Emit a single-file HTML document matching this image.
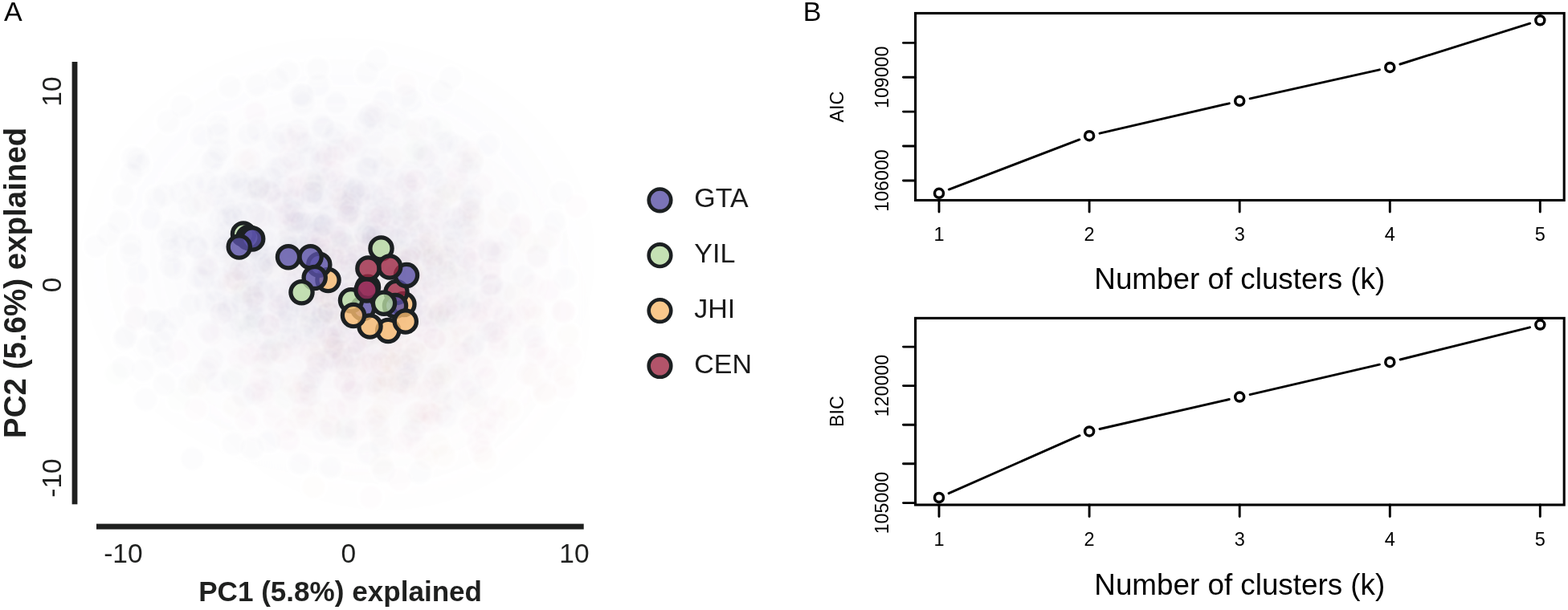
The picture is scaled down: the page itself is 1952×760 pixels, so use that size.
<!DOCTYPE html>
<html><head><meta charset="utf-8"><title>PCA and clustering</title>
<style>
html,body{margin:0;padding:0;background:#fff;}
svg{display:block;}
text{font-family:"Liberation Sans", Arial, Helvetica, sans-serif;}
</style></head><body>
<svg width="1952" height="760" viewBox="0 0 1952 760">
<defs>
<filter id="blur" x="-20%" y="-20%" width="140%" height="140%"><feGaussianBlur stdDeviation="1.0"/></filter>
<radialGradient id="hzP"><stop offset="0.00" stop-color="#8a84bc" stop-opacity="0.0850"/><stop offset="0.08" stop-color="#8a84bc" stop-opacity="0.0832"/><stop offset="0.17" stop-color="#8a84bc" stop-opacity="0.0778"/><stop offset="0.25" stop-color="#8a84bc" stop-opacity="0.0697"/><stop offset="0.33" stop-color="#8a84bc" stop-opacity="0.0596"/><stop offset="0.42" stop-color="#8a84bc" stop-opacity="0.0487"/><stop offset="0.50" stop-color="#8a84bc" stop-opacity="0.0378"/><stop offset="0.58" stop-color="#8a84bc" stop-opacity="0.0278"/><stop offset="0.67" stop-color="#8a84bc" stop-opacity="0.0191"/><stop offset="0.75" stop-color="#8a84bc" stop-opacity="0.0121"/><stop offset="0.83" stop-color="#8a84bc" stop-opacity="0.0067"/><stop offset="0.92" stop-color="#8a84bc" stop-opacity="0.0027"/><stop offset="1.00" stop-color="#8a84bc" stop-opacity="0.0000"/></radialGradient>
<radialGradient id="hzR"><stop offset="0.00" stop-color="#c7909f" stop-opacity="0.0500"/><stop offset="0.08" stop-color="#c7909f" stop-opacity="0.0489"/><stop offset="0.17" stop-color="#c7909f" stop-opacity="0.0458"/><stop offset="0.25" stop-color="#c7909f" stop-opacity="0.0410"/><stop offset="0.33" stop-color="#c7909f" stop-opacity="0.0351"/><stop offset="0.42" stop-color="#c7909f" stop-opacity="0.0286"/><stop offset="0.50" stop-color="#c7909f" stop-opacity="0.0222"/><stop offset="0.58" stop-color="#c7909f" stop-opacity="0.0163"/><stop offset="0.67" stop-color="#c7909f" stop-opacity="0.0113"/><stop offset="0.75" stop-color="#c7909f" stop-opacity="0.0071"/><stop offset="0.83" stop-color="#c7909f" stop-opacity="0.0039"/><stop offset="0.92" stop-color="#c7909f" stop-opacity="0.0016"/><stop offset="1.00" stop-color="#c7909f" stop-opacity="0.0000"/></radialGradient>
<clipPath id="clipA"><rect x="97" y="40" width="690" height="610"/></clipPath>
</defs>
<rect width="1952" height="760" fill="#ffffff"/>

<g filter="url(#blur)" clip-path="url(#clipA)">
<ellipse cx="420" cy="320" rx="340" ry="290" fill="url(#hzP)"/>
<ellipse cx="480" cy="400" rx="280" ry="260" fill="url(#hzR)"/>
<circle cx="389.8" cy="310.6" r="14.5" fill="#8a84bc" fill-opacity="0.024" stroke="#fff" stroke-opacity="0.2" stroke-width="1.5"/>
<circle cx="322.7" cy="235.1" r="14.5" fill="#8a84bc" fill-opacity="0.024" stroke="#fff" stroke-opacity="0.2" stroke-width="1.5"/>
<circle cx="309.1" cy="297.0" r="14.5" fill="#8a84bc" fill-opacity="0.024" stroke="#fff" stroke-opacity="0.2" stroke-width="1.5"/>
<circle cx="484.3" cy="259.6" r="14.5" fill="#8a84bc" fill-opacity="0.024" stroke="#fff" stroke-opacity="0.2" stroke-width="1.5"/>
<circle cx="359.5" cy="392.9" r="14.5" fill="#8a84bc" fill-opacity="0.024" stroke="#fff" stroke-opacity="0.2" stroke-width="1.5"/>
<circle cx="541.1" cy="400.2" r="14.5" fill="#8a84bc" fill-opacity="0.024" stroke="#fff" stroke-opacity="0.2" stroke-width="1.5"/>
<circle cx="376.0" cy="307.0" r="14.5" fill="#8a84bc" fill-opacity="0.024" stroke="#fff" stroke-opacity="0.2" stroke-width="1.5"/>
<circle cx="400.4" cy="392.5" r="14.5" fill="#8a84bc" fill-opacity="0.024" stroke="#fff" stroke-opacity="0.2" stroke-width="1.5"/>
<circle cx="259.4" cy="457.9" r="14.5" fill="#c98ea2" fill-opacity="0.024" stroke="#fff" stroke-opacity="0.2" stroke-width="1.5"/>
<circle cx="418.4" cy="300.4" r="14.5" fill="#c98ea2" fill-opacity="0.024" stroke="#fff" stroke-opacity="0.2" stroke-width="1.5"/>
<circle cx="362.9" cy="260.7" r="14.5" fill="#8a84bc" fill-opacity="0.024" stroke="#fff" stroke-opacity="0.2" stroke-width="1.5"/>
<circle cx="464.4" cy="292.7" r="14.5" fill="#8a84bc" fill-opacity="0.024" stroke="#fff" stroke-opacity="0.2" stroke-width="1.5"/>
<circle cx="313.9" cy="356.0" r="14.5" fill="#8a84bc" fill-opacity="0.024" stroke="#fff" stroke-opacity="0.2" stroke-width="1.5"/>
<circle cx="410.2" cy="268.3" r="14.5" fill="#8a84bc" fill-opacity="0.024" stroke="#fff" stroke-opacity="0.2" stroke-width="1.5"/>
<circle cx="341.1" cy="236.2" r="14.5" fill="#8a84bc" fill-opacity="0.024" stroke="#fff" stroke-opacity="0.2" stroke-width="1.5"/>
<circle cx="469.4" cy="139.6" r="14.5" fill="#c98ea2" fill-opacity="0.024" stroke="#fff" stroke-opacity="0.2" stroke-width="1.5"/>
<circle cx="547.7" cy="203.2" r="14.5" fill="#8a84bc" fill-opacity="0.024" stroke="#fff" stroke-opacity="0.2" stroke-width="1.5"/>
<circle cx="412.7" cy="532.8" r="14.5" fill="#e8b48a" fill-opacity="0.024" stroke="#fff" stroke-opacity="0.2" stroke-width="1.5"/>
<circle cx="523.5" cy="291.3" r="14.5" fill="#8a84bc" fill-opacity="0.024" stroke="#fff" stroke-opacity="0.2" stroke-width="1.5"/>
<circle cx="384.8" cy="476.3" r="14.5" fill="#8a84bc" fill-opacity="0.024" stroke="#fff" stroke-opacity="0.2" stroke-width="1.5"/>
<circle cx="317.4" cy="219.9" r="14.5" fill="#8a84bc" fill-opacity="0.024" stroke="#fff" stroke-opacity="0.2" stroke-width="1.5"/>
<circle cx="227.5" cy="295.9" r="14.5" fill="#8a84bc" fill-opacity="0.024" stroke="#fff" stroke-opacity="0.2" stroke-width="1.5"/>
<circle cx="476.9" cy="208.9" r="14.5" fill="#8a84bc" fill-opacity="0.024" stroke="#fff" stroke-opacity="0.2" stroke-width="1.5"/>
<circle cx="350.2" cy="207.7" r="14.5" fill="#8a84bc" fill-opacity="0.024" stroke="#fff" stroke-opacity="0.2" stroke-width="1.5"/>
<circle cx="346.6" cy="270.9" r="14.5" fill="#8a84bc" fill-opacity="0.024" stroke="#fff" stroke-opacity="0.2" stroke-width="1.5"/>
<circle cx="415.0" cy="430.3" r="14.5" fill="#8a84bc" fill-opacity="0.024" stroke="#fff" stroke-opacity="0.2" stroke-width="1.5"/>
<circle cx="512.2" cy="237.5" r="14.5" fill="#8a84bc" fill-opacity="0.024" stroke="#fff" stroke-opacity="0.2" stroke-width="1.5"/>
<circle cx="464.9" cy="278.2" r="14.5" fill="#8a84bc" fill-opacity="0.024" stroke="#fff" stroke-opacity="0.2" stroke-width="1.5"/>
<circle cx="588.7" cy="297.3" r="14.5" fill="#c98ea2" fill-opacity="0.024" stroke="#fff" stroke-opacity="0.2" stroke-width="1.5"/>
<circle cx="212.6" cy="287.7" r="14.5" fill="#8a84bc" fill-opacity="0.024" stroke="#fff" stroke-opacity="0.2" stroke-width="1.5"/>
<circle cx="516.3" cy="459.0" r="14.5" fill="#b0d2a0" fill-opacity="0.024" stroke="#fff" stroke-opacity="0.2" stroke-width="1.5"/>
<circle cx="451.3" cy="302.5" r="14.5" fill="#e8b48a" fill-opacity="0.024" stroke="#fff" stroke-opacity="0.2" stroke-width="1.5"/>
<circle cx="516.7" cy="225.2" r="14.5" fill="#c98ea2" fill-opacity="0.024" stroke="#fff" stroke-opacity="0.2" stroke-width="1.5"/>
<circle cx="459.8" cy="417.6" r="14.5" fill="#e8b48a" fill-opacity="0.024" stroke="#fff" stroke-opacity="0.2" stroke-width="1.5"/>
<circle cx="366.1" cy="277.1" r="14.5" fill="#8a84bc" fill-opacity="0.024" stroke="#fff" stroke-opacity="0.2" stroke-width="1.5"/>
<circle cx="462.1" cy="378.0" r="14.5" fill="#8a84bc" fill-opacity="0.024" stroke="#fff" stroke-opacity="0.2" stroke-width="1.5"/>
<circle cx="658.4" cy="419.9" r="14.5" fill="#c98ea2" fill-opacity="0.024" stroke="#fff" stroke-opacity="0.2" stroke-width="1.5"/>
<circle cx="490.1" cy="351.5" r="14.5" fill="#e8b48a" fill-opacity="0.024" stroke="#fff" stroke-opacity="0.2" stroke-width="1.5"/>
<circle cx="327.8" cy="325.2" r="14.5" fill="#8a84bc" fill-opacity="0.024" stroke="#fff" stroke-opacity="0.2" stroke-width="1.5"/>
<circle cx="461.7" cy="619.5" r="14.5" fill="#c98ea2" fill-opacity="0.024" stroke="#fff" stroke-opacity="0.2" stroke-width="1.5"/>
<circle cx="507.0" cy="466.6" r="14.5" fill="#8a84bc" fill-opacity="0.024" stroke="#fff" stroke-opacity="0.2" stroke-width="1.5"/>
<circle cx="529.1" cy="510.0" r="14.5" fill="#c98ea2" fill-opacity="0.024" stroke="#fff" stroke-opacity="0.2" stroke-width="1.5"/>
<circle cx="532.1" cy="194.4" r="14.5" fill="#c98ea2" fill-opacity="0.024" stroke="#fff" stroke-opacity="0.2" stroke-width="1.5"/>
<circle cx="315.3" cy="307.8" r="14.5" fill="#8a84bc" fill-opacity="0.024" stroke="#fff" stroke-opacity="0.2" stroke-width="1.5"/>
<circle cx="402.9" cy="248.3" r="14.5" fill="#8a84bc" fill-opacity="0.024" stroke="#fff" stroke-opacity="0.2" stroke-width="1.5"/>
<circle cx="502.2" cy="249.9" r="14.5" fill="#c98ea2" fill-opacity="0.024" stroke="#fff" stroke-opacity="0.2" stroke-width="1.5"/>
<circle cx="574.9" cy="268.4" r="14.5" fill="#c98ea2" fill-opacity="0.024" stroke="#fff" stroke-opacity="0.2" stroke-width="1.5"/>
<circle cx="380.9" cy="493.8" r="14.5" fill="#c98ea2" fill-opacity="0.024" stroke="#fff" stroke-opacity="0.2" stroke-width="1.5"/>
<circle cx="380.7" cy="239.9" r="14.5" fill="#c98ea2" fill-opacity="0.024" stroke="#fff" stroke-opacity="0.2" stroke-width="1.5"/>
<circle cx="517.7" cy="353.0" r="14.5" fill="#c98ea2" fill-opacity="0.024" stroke="#fff" stroke-opacity="0.2" stroke-width="1.5"/>
<circle cx="212.7" cy="311.7" r="14.5" fill="#8a84bc" fill-opacity="0.024" stroke="#fff" stroke-opacity="0.2" stroke-width="1.5"/>
<circle cx="424.1" cy="437.9" r="14.5" fill="#e8b48a" fill-opacity="0.024" stroke="#fff" stroke-opacity="0.2" stroke-width="1.5"/>
<circle cx="541.2" cy="422.3" r="14.5" fill="#c98ea2" fill-opacity="0.024" stroke="#fff" stroke-opacity="0.2" stroke-width="1.5"/>
<circle cx="327.8" cy="486.1" r="14.5" fill="#c98ea2" fill-opacity="0.024" stroke="#fff" stroke-opacity="0.2" stroke-width="1.5"/>
<circle cx="273.0" cy="272.3" r="14.5" fill="#8a84bc" fill-opacity="0.024" stroke="#fff" stroke-opacity="0.2" stroke-width="1.5"/>
<circle cx="325.4" cy="245.7" r="14.5" fill="#8a84bc" fill-opacity="0.024" stroke="#fff" stroke-opacity="0.2" stroke-width="1.5"/>
<circle cx="430.7" cy="355.6" r="14.5" fill="#8a84bc" fill-opacity="0.024" stroke="#fff" stroke-opacity="0.2" stroke-width="1.5"/>
<circle cx="431.7" cy="336.9" r="14.5" fill="#e8b48a" fill-opacity="0.024" stroke="#fff" stroke-opacity="0.2" stroke-width="1.5"/>
<circle cx="407.1" cy="414.2" r="14.5" fill="#c98ea2" fill-opacity="0.024" stroke="#fff" stroke-opacity="0.2" stroke-width="1.5"/>
<circle cx="395.5" cy="220.6" r="14.5" fill="#8a84bc" fill-opacity="0.024" stroke="#fff" stroke-opacity="0.2" stroke-width="1.5"/>
<circle cx="439.6" cy="245.8" r="14.5" fill="#8a84bc" fill-opacity="0.024" stroke="#fff" stroke-opacity="0.2" stroke-width="1.5"/>
<circle cx="604.3" cy="571.6" r="14.5" fill="#e8b48a" fill-opacity="0.024" stroke="#fff" stroke-opacity="0.2" stroke-width="1.5"/>
<circle cx="471.5" cy="280.9" r="14.5" fill="#8a84bc" fill-opacity="0.024" stroke="#fff" stroke-opacity="0.2" stroke-width="1.5"/>
<circle cx="530.2" cy="312.8" r="14.5" fill="#8a84bc" fill-opacity="0.024" stroke="#fff" stroke-opacity="0.2" stroke-width="1.5"/>
<circle cx="493.2" cy="490.6" r="14.5" fill="#c98ea2" fill-opacity="0.024" stroke="#fff" stroke-opacity="0.2" stroke-width="1.5"/>
<circle cx="327.8" cy="495.6" r="14.5" fill="#c98ea2" fill-opacity="0.024" stroke="#fff" stroke-opacity="0.2" stroke-width="1.5"/>
<circle cx="357.4" cy="375.4" r="14.5" fill="#8a84bc" fill-opacity="0.024" stroke="#fff" stroke-opacity="0.2" stroke-width="1.5"/>
<circle cx="438.6" cy="351.4" r="14.5" fill="#8a84bc" fill-opacity="0.024" stroke="#fff" stroke-opacity="0.2" stroke-width="1.5"/>
<circle cx="178.0" cy="461.3" r="14.5" fill="#8a84bc" fill-opacity="0.024" stroke="#fff" stroke-opacity="0.2" stroke-width="1.5"/>
<circle cx="318.8" cy="376.7" r="14.5" fill="#8a84bc" fill-opacity="0.024" stroke="#fff" stroke-opacity="0.2" stroke-width="1.5"/>
<circle cx="285.2" cy="352.6" r="14.5" fill="#c98ea2" fill-opacity="0.024" stroke="#fff" stroke-opacity="0.2" stroke-width="1.5"/>
<circle cx="461.3" cy="143.4" r="14.5" fill="#8a84bc" fill-opacity="0.024" stroke="#fff" stroke-opacity="0.2" stroke-width="1.5"/>
<circle cx="204.5" cy="242.9" r="14.5" fill="#8a84bc" fill-opacity="0.024" stroke="#fff" stroke-opacity="0.2" stroke-width="1.5"/>
<circle cx="576.8" cy="418.3" r="14.5" fill="#e8b48a" fill-opacity="0.024" stroke="#fff" stroke-opacity="0.2" stroke-width="1.5"/>
<circle cx="577.9" cy="374.3" r="14.5" fill="#b0d2a0" fill-opacity="0.024" stroke="#fff" stroke-opacity="0.2" stroke-width="1.5"/>
<circle cx="493.2" cy="404.9" r="14.5" fill="#c98ea2" fill-opacity="0.024" stroke="#fff" stroke-opacity="0.2" stroke-width="1.5"/>
<circle cx="514.3" cy="282.1" r="14.5" fill="#8a84bc" fill-opacity="0.024" stroke="#fff" stroke-opacity="0.2" stroke-width="1.5"/>
<circle cx="587.6" cy="244.3" r="14.5" fill="#8a84bc" fill-opacity="0.024" stroke="#fff" stroke-opacity="0.2" stroke-width="1.5"/>
<circle cx="497.5" cy="388.5" r="14.5" fill="#8a84bc" fill-opacity="0.024" stroke="#fff" stroke-opacity="0.2" stroke-width="1.5"/>
<circle cx="478.8" cy="125.0" r="14.5" fill="#8a84bc" fill-opacity="0.024" stroke="#fff" stroke-opacity="0.2" stroke-width="1.5"/>
<circle cx="344.1" cy="209.5" r="14.5" fill="#8a84bc" fill-opacity="0.024" stroke="#fff" stroke-opacity="0.2" stroke-width="1.5"/>
<circle cx="389.1" cy="353.1" r="14.5" fill="#b0d2a0" fill-opacity="0.024" stroke="#fff" stroke-opacity="0.2" stroke-width="1.5"/>
<circle cx="438.2" cy="305.2" r="14.5" fill="#8a84bc" fill-opacity="0.024" stroke="#fff" stroke-opacity="0.2" stroke-width="1.5"/>
<circle cx="289.9" cy="409.4" r="14.5" fill="#8a84bc" fill-opacity="0.024" stroke="#fff" stroke-opacity="0.2" stroke-width="1.5"/>
<circle cx="373.4" cy="272.1" r="14.5" fill="#c98ea2" fill-opacity="0.024" stroke="#fff" stroke-opacity="0.2" stroke-width="1.5"/>
<circle cx="476.7" cy="483.7" r="14.5" fill="#e8b48a" fill-opacity="0.024" stroke="#fff" stroke-opacity="0.2" stroke-width="1.5"/>
<circle cx="505.8" cy="230.5" r="14.5" fill="#8a84bc" fill-opacity="0.024" stroke="#fff" stroke-opacity="0.2" stroke-width="1.5"/>
<circle cx="497.9" cy="443.1" r="14.5" fill="#e8b48a" fill-opacity="0.024" stroke="#fff" stroke-opacity="0.2" stroke-width="1.5"/>
<circle cx="307.0" cy="417.0" r="14.5" fill="#8a84bc" fill-opacity="0.024" stroke="#fff" stroke-opacity="0.2" stroke-width="1.5"/>
<circle cx="456.1" cy="348.5" r="14.5" fill="#8a84bc" fill-opacity="0.024" stroke="#fff" stroke-opacity="0.2" stroke-width="1.5"/>
<circle cx="703.8" cy="347.3" r="14.5" fill="#8a84bc" fill-opacity="0.024" stroke="#fff" stroke-opacity="0.2" stroke-width="1.5"/>
<circle cx="458.0" cy="307.2" r="14.5" fill="#8a84bc" fill-opacity="0.024" stroke="#fff" stroke-opacity="0.2" stroke-width="1.5"/>
<circle cx="269.4" cy="375.9" r="14.5" fill="#8a84bc" fill-opacity="0.024" stroke="#fff" stroke-opacity="0.2" stroke-width="1.5"/>
<circle cx="372.1" cy="312.0" r="14.5" fill="#8a84bc" fill-opacity="0.024" stroke="#fff" stroke-opacity="0.2" stroke-width="1.5"/>
<circle cx="309.7" cy="167.8" r="14.5" fill="#8a84bc" fill-opacity="0.024" stroke="#fff" stroke-opacity="0.2" stroke-width="1.5"/>
<circle cx="677.8" cy="302.0" r="14.5" fill="#b0d2a0" fill-opacity="0.024" stroke="#fff" stroke-opacity="0.2" stroke-width="1.5"/>
<circle cx="492.2" cy="371.2" r="14.5" fill="#8a84bc" fill-opacity="0.024" stroke="#fff" stroke-opacity="0.2" stroke-width="1.5"/>
<circle cx="433.4" cy="254.6" r="14.5" fill="#8a84bc" fill-opacity="0.024" stroke="#fff" stroke-opacity="0.2" stroke-width="1.5"/>
<circle cx="542.0" cy="466.2" r="14.5" fill="#8a84bc" fill-opacity="0.024" stroke="#fff" stroke-opacity="0.2" stroke-width="1.5"/>
<circle cx="499.6" cy="324.8" r="14.5" fill="#8a84bc" fill-opacity="0.024" stroke="#fff" stroke-opacity="0.2" stroke-width="1.5"/>
<circle cx="425.3" cy="389.2" r="14.5" fill="#8a84bc" fill-opacity="0.024" stroke="#fff" stroke-opacity="0.2" stroke-width="1.5"/>
<circle cx="495.0" cy="147.8" r="14.5" fill="#8a84bc" fill-opacity="0.024" stroke="#fff" stroke-opacity="0.2" stroke-width="1.5"/>
<circle cx="393.6" cy="297.5" r="14.5" fill="#c98ea2" fill-opacity="0.024" stroke="#fff" stroke-opacity="0.2" stroke-width="1.5"/>
<circle cx="261.0" cy="297.8" r="14.5" fill="#8a84bc" fill-opacity="0.024" stroke="#fff" stroke-opacity="0.2" stroke-width="1.5"/>
<circle cx="561.1" cy="96.7" r="14.5" fill="#8a84bc" fill-opacity="0.024" stroke="#fff" stroke-opacity="0.2" stroke-width="1.5"/>
<circle cx="414.9" cy="173.6" r="14.5" fill="#8a84bc" fill-opacity="0.024" stroke="#fff" stroke-opacity="0.2" stroke-width="1.5"/>
<circle cx="412.9" cy="418.5" r="14.5" fill="#8a84bc" fill-opacity="0.024" stroke="#fff" stroke-opacity="0.2" stroke-width="1.5"/>
<circle cx="611.6" cy="355.1" r="14.5" fill="#8a84bc" fill-opacity="0.024" stroke="#fff" stroke-opacity="0.2" stroke-width="1.5"/>
<circle cx="573.8" cy="271.5" r="14.5" fill="#8a84bc" fill-opacity="0.024" stroke="#fff" stroke-opacity="0.2" stroke-width="1.5"/>
<circle cx="464.2" cy="522.7" r="14.5" fill="#c98ea2" fill-opacity="0.024" stroke="#fff" stroke-opacity="0.2" stroke-width="1.5"/>
<circle cx="305.2" cy="398.2" r="14.5" fill="#b0d2a0" fill-opacity="0.024" stroke="#fff" stroke-opacity="0.2" stroke-width="1.5"/>
<circle cx="316.1" cy="484.9" r="14.5" fill="#c98ea2" fill-opacity="0.024" stroke="#fff" stroke-opacity="0.2" stroke-width="1.5"/>
<circle cx="512.4" cy="126.3" r="14.5" fill="#8a84bc" fill-opacity="0.024" stroke="#fff" stroke-opacity="0.2" stroke-width="1.5"/>
<circle cx="439.8" cy="383.0" r="14.5" fill="#c98ea2" fill-opacity="0.024" stroke="#fff" stroke-opacity="0.2" stroke-width="1.5"/>
<circle cx="408.1" cy="355.5" r="14.5" fill="#b0d2a0" fill-opacity="0.024" stroke="#fff" stroke-opacity="0.2" stroke-width="1.5"/>
<circle cx="399.9" cy="328.5" r="14.5" fill="#8a84bc" fill-opacity="0.024" stroke="#fff" stroke-opacity="0.2" stroke-width="1.5"/>
<circle cx="406.2" cy="223.3" r="14.5" fill="#8a84bc" fill-opacity="0.024" stroke="#fff" stroke-opacity="0.2" stroke-width="1.5"/>
<circle cx="428.9" cy="231.3" r="14.5" fill="#8a84bc" fill-opacity="0.024" stroke="#fff" stroke-opacity="0.2" stroke-width="1.5"/>
<circle cx="433.5" cy="506.6" r="14.5" fill="#c98ea2" fill-opacity="0.024" stroke="#fff" stroke-opacity="0.2" stroke-width="1.5"/>
<circle cx="433.6" cy="265.0" r="14.5" fill="#8a84bc" fill-opacity="0.024" stroke="#fff" stroke-opacity="0.2" stroke-width="1.5"/>
<circle cx="583.2" cy="263.3" r="14.5" fill="#8a84bc" fill-opacity="0.024" stroke="#fff" stroke-opacity="0.2" stroke-width="1.5"/>
<circle cx="377.5" cy="128.9" r="14.5" fill="#8a84bc" fill-opacity="0.024" stroke="#fff" stroke-opacity="0.2" stroke-width="1.5"/>
<circle cx="278.3" cy="307.5" r="14.5" fill="#8a84bc" fill-opacity="0.024" stroke="#fff" stroke-opacity="0.2" stroke-width="1.5"/>
<circle cx="346.1" cy="378.8" r="14.5" fill="#8a84bc" fill-opacity="0.024" stroke="#fff" stroke-opacity="0.2" stroke-width="1.5"/>
<circle cx="647.1" cy="282.3" r="14.5" fill="#c98ea2" fill-opacity="0.024" stroke="#fff" stroke-opacity="0.2" stroke-width="1.5"/>
<circle cx="314.2" cy="233.5" r="14.5" fill="#8a84bc" fill-opacity="0.024" stroke="#fff" stroke-opacity="0.2" stroke-width="1.5"/>
<circle cx="456.4" cy="91.2" r="14.5" fill="#8a84bc" fill-opacity="0.024" stroke="#fff" stroke-opacity="0.2" stroke-width="1.5"/>
<circle cx="184.8" cy="430.8" r="14.5" fill="#8a84bc" fill-opacity="0.024" stroke="#fff" stroke-opacity="0.2" stroke-width="1.5"/>
<circle cx="490.0" cy="306.2" r="14.5" fill="#b0d2a0" fill-opacity="0.024" stroke="#fff" stroke-opacity="0.2" stroke-width="1.5"/>
<circle cx="586.4" cy="479.0" r="14.5" fill="#8a84bc" fill-opacity="0.024" stroke="#fff" stroke-opacity="0.2" stroke-width="1.5"/>
<circle cx="441.5" cy="382.0" r="14.5" fill="#e8b48a" fill-opacity="0.024" stroke="#fff" stroke-opacity="0.2" stroke-width="1.5"/>
<circle cx="283.7" cy="387.7" r="14.5" fill="#8a84bc" fill-opacity="0.024" stroke="#fff" stroke-opacity="0.2" stroke-width="1.5"/>
<circle cx="546.9" cy="394.8" r="14.5" fill="#8a84bc" fill-opacity="0.024" stroke="#fff" stroke-opacity="0.2" stroke-width="1.5"/>
<circle cx="531.1" cy="279.1" r="14.5" fill="#8a84bc" fill-opacity="0.024" stroke="#fff" stroke-opacity="0.2" stroke-width="1.5"/>
<circle cx="566.7" cy="379.3" r="14.5" fill="#8a84bc" fill-opacity="0.024" stroke="#fff" stroke-opacity="0.2" stroke-width="1.5"/>
<circle cx="528.0" cy="196.3" r="14.5" fill="#8a84bc" fill-opacity="0.024" stroke="#fff" stroke-opacity="0.2" stroke-width="1.5"/>
<circle cx="554.6" cy="382.5" r="14.5" fill="#c98ea2" fill-opacity="0.024" stroke="#fff" stroke-opacity="0.2" stroke-width="1.5"/>
<circle cx="404.0" cy="336.2" r="14.5" fill="#8a84bc" fill-opacity="0.024" stroke="#fff" stroke-opacity="0.2" stroke-width="1.5"/>
<circle cx="392.6" cy="364.9" r="14.5" fill="#8a84bc" fill-opacity="0.024" stroke="#fff" stroke-opacity="0.2" stroke-width="1.5"/>
<circle cx="315.3" cy="395.2" r="14.5" fill="#8a84bc" fill-opacity="0.024" stroke="#fff" stroke-opacity="0.2" stroke-width="1.5"/>
<circle cx="381.3" cy="330.1" r="14.5" fill="#8a84bc" fill-opacity="0.024" stroke="#fff" stroke-opacity="0.2" stroke-width="1.5"/>
<circle cx="407.2" cy="300.6" r="14.5" fill="#b0d2a0" fill-opacity="0.024" stroke="#fff" stroke-opacity="0.2" stroke-width="1.5"/>
<circle cx="609.6" cy="335.9" r="14.5" fill="#c98ea2" fill-opacity="0.024" stroke="#fff" stroke-opacity="0.2" stroke-width="1.5"/>
<circle cx="539.6" cy="248.0" r="14.5" fill="#c98ea2" fill-opacity="0.024" stroke="#fff" stroke-opacity="0.2" stroke-width="1.5"/>
<circle cx="599.3" cy="375.0" r="14.5" fill="#8a84bc" fill-opacity="0.024" stroke="#fff" stroke-opacity="0.2" stroke-width="1.5"/>
<circle cx="436.4" cy="261.8" r="14.5" fill="#8a84bc" fill-opacity="0.024" stroke="#fff" stroke-opacity="0.2" stroke-width="1.5"/>
<circle cx="571.2" cy="343.7" r="14.5" fill="#e8b48a" fill-opacity="0.024" stroke="#fff" stroke-opacity="0.2" stroke-width="1.5"/>
<circle cx="309.2" cy="299.3" r="14.5" fill="#e8b48a" fill-opacity="0.024" stroke="#fff" stroke-opacity="0.2" stroke-width="1.5"/>
<circle cx="404.9" cy="198.2" r="14.5" fill="#c98ea2" fill-opacity="0.024" stroke="#fff" stroke-opacity="0.2" stroke-width="1.5"/>
<circle cx="549.3" cy="113.9" r="14.5" fill="#8a84bc" fill-opacity="0.024" stroke="#fff" stroke-opacity="0.2" stroke-width="1.5"/>
<circle cx="411.7" cy="444.9" r="14.5" fill="#c98ea2" fill-opacity="0.024" stroke="#fff" stroke-opacity="0.2" stroke-width="1.5"/>
<circle cx="368.2" cy="214.9" r="14.5" fill="#c98ea2" fill-opacity="0.024" stroke="#fff" stroke-opacity="0.2" stroke-width="1.5"/>
<circle cx="417.6" cy="509.8" r="14.5" fill="#c98ea2" fill-opacity="0.024" stroke="#fff" stroke-opacity="0.2" stroke-width="1.5"/>
<circle cx="392.7" cy="346.1" r="14.5" fill="#c98ea2" fill-opacity="0.024" stroke="#fff" stroke-opacity="0.2" stroke-width="1.5"/>
<circle cx="390.7" cy="330.6" r="14.5" fill="#8a84bc" fill-opacity="0.024" stroke="#fff" stroke-opacity="0.2" stroke-width="1.5"/>
<circle cx="425.1" cy="414.0" r="14.5" fill="#8a84bc" fill-opacity="0.024" stroke="#fff" stroke-opacity="0.2" stroke-width="1.5"/>
<circle cx="255.2" cy="376.8" r="14.5" fill="#8a84bc" fill-opacity="0.024" stroke="#fff" stroke-opacity="0.2" stroke-width="1.5"/>
<circle cx="609.7" cy="366.3" r="14.5" fill="#c98ea2" fill-opacity="0.024" stroke="#fff" stroke-opacity="0.2" stroke-width="1.5"/>
<circle cx="371.7" cy="276.9" r="14.5" fill="#8a84bc" fill-opacity="0.024" stroke="#fff" stroke-opacity="0.2" stroke-width="1.5"/>
<circle cx="475.3" cy="555.3" r="14.5" fill="#8a84bc" fill-opacity="0.024" stroke="#fff" stroke-opacity="0.2" stroke-width="1.5"/>
<circle cx="440.6" cy="237.3" r="14.5" fill="#8a84bc" fill-opacity="0.024" stroke="#fff" stroke-opacity="0.2" stroke-width="1.5"/>
<circle cx="181.3" cy="497.6" r="14.5" fill="#8a84bc" fill-opacity="0.024" stroke="#fff" stroke-opacity="0.2" stroke-width="1.5"/>
<circle cx="436.0" cy="445.7" r="14.5" fill="#b0d2a0" fill-opacity="0.024" stroke="#fff" stroke-opacity="0.2" stroke-width="1.5"/>
<circle cx="243.6" cy="509.8" r="14.5" fill="#c98ea2" fill-opacity="0.024" stroke="#fff" stroke-opacity="0.2" stroke-width="1.5"/>
<circle cx="312.9" cy="251.6" r="14.5" fill="#8a84bc" fill-opacity="0.024" stroke="#fff" stroke-opacity="0.2" stroke-width="1.5"/>
<circle cx="479.0" cy="336.1" r="14.5" fill="#8a84bc" fill-opacity="0.024" stroke="#fff" stroke-opacity="0.2" stroke-width="1.5"/>
<circle cx="533.6" cy="316.4" r="14.5" fill="#c98ea2" fill-opacity="0.024" stroke="#fff" stroke-opacity="0.2" stroke-width="1.5"/>
<circle cx="414.4" cy="428.6" r="14.5" fill="#8a84bc" fill-opacity="0.024" stroke="#fff" stroke-opacity="0.2" stroke-width="1.5"/>
<circle cx="287.2" cy="229.0" r="14.5" fill="#8a84bc" fill-opacity="0.024" stroke="#fff" stroke-opacity="0.2" stroke-width="1.5"/>
<circle cx="609.8" cy="314.2" r="14.5" fill="#8a84bc" fill-opacity="0.024" stroke="#fff" stroke-opacity="0.2" stroke-width="1.5"/>
<circle cx="395.3" cy="453.7" r="14.5" fill="#c98ea2" fill-opacity="0.024" stroke="#fff" stroke-opacity="0.2" stroke-width="1.5"/>
<circle cx="334.9" cy="438.2" r="14.5" fill="#8a84bc" fill-opacity="0.024" stroke="#fff" stroke-opacity="0.2" stroke-width="1.5"/>
<circle cx="349.9" cy="400.2" r="14.5" fill="#8a84bc" fill-opacity="0.024" stroke="#fff" stroke-opacity="0.2" stroke-width="1.5"/>
<circle cx="392.9" cy="445.5" r="14.5" fill="#e8b48a" fill-opacity="0.024" stroke="#fff" stroke-opacity="0.2" stroke-width="1.5"/>
<circle cx="425.8" cy="315.8" r="14.5" fill="#8a84bc" fill-opacity="0.024" stroke="#fff" stroke-opacity="0.2" stroke-width="1.5"/>
<circle cx="668.6" cy="433.4" r="14.5" fill="#c98ea2" fill-opacity="0.024" stroke="#fff" stroke-opacity="0.2" stroke-width="1.5"/>
<circle cx="157.0" cy="418.5" r="14.5" fill="#8a84bc" fill-opacity="0.024" stroke="#fff" stroke-opacity="0.2" stroke-width="1.5"/>
<circle cx="288.8" cy="260.8" r="14.5" fill="#8a84bc" fill-opacity="0.024" stroke="#fff" stroke-opacity="0.2" stroke-width="1.5"/>
<circle cx="700.3" cy="388.0" r="14.5" fill="#c98ea2" fill-opacity="0.024" stroke="#fff" stroke-opacity="0.2" stroke-width="1.5"/>
<circle cx="584.1" cy="211.5" r="14.5" fill="#8a84bc" fill-opacity="0.024" stroke="#fff" stroke-opacity="0.2" stroke-width="1.5"/>
<circle cx="236.3" cy="379.3" r="14.5" fill="#8a84bc" fill-opacity="0.024" stroke="#fff" stroke-opacity="0.2" stroke-width="1.5"/>
<circle cx="360.0" cy="286.0" r="14.5" fill="#c98ea2" fill-opacity="0.024" stroke="#fff" stroke-opacity="0.2" stroke-width="1.5"/>
<circle cx="466.4" cy="415.1" r="14.5" fill="#8a84bc" fill-opacity="0.024" stroke="#fff" stroke-opacity="0.2" stroke-width="1.5"/>
<circle cx="549.1" cy="161.3" r="14.5" fill="#b0d2a0" fill-opacity="0.024" stroke="#fff" stroke-opacity="0.2" stroke-width="1.5"/>
<circle cx="338.6" cy="321.1" r="14.5" fill="#8a84bc" fill-opacity="0.024" stroke="#fff" stroke-opacity="0.2" stroke-width="1.5"/>
<circle cx="477.1" cy="325.3" r="14.5" fill="#8a84bc" fill-opacity="0.024" stroke="#fff" stroke-opacity="0.2" stroke-width="1.5"/>
<circle cx="456.9" cy="397.0" r="14.5" fill="#c98ea2" fill-opacity="0.024" stroke="#fff" stroke-opacity="0.2" stroke-width="1.5"/>
<circle cx="610.8" cy="334.9" r="14.5" fill="#c98ea2" fill-opacity="0.024" stroke="#fff" stroke-opacity="0.2" stroke-width="1.5"/>
<circle cx="241.7" cy="230.4" r="14.5" fill="#8a84bc" fill-opacity="0.024" stroke="#fff" stroke-opacity="0.2" stroke-width="1.5"/>
<circle cx="476.1" cy="268.2" r="14.5" fill="#c98ea2" fill-opacity="0.024" stroke="#fff" stroke-opacity="0.2" stroke-width="1.5"/>
<circle cx="510.0" cy="483.7" r="14.5" fill="#c98ea2" fill-opacity="0.024" stroke="#fff" stroke-opacity="0.2" stroke-width="1.5"/>
<circle cx="393.8" cy="342.6" r="14.5" fill="#8a84bc" fill-opacity="0.024" stroke="#fff" stroke-opacity="0.2" stroke-width="1.5"/>
<circle cx="426.0" cy="301.9" r="14.5" fill="#8a84bc" fill-opacity="0.024" stroke="#fff" stroke-opacity="0.2" stroke-width="1.5"/>
<circle cx="531.0" cy="570.6" r="14.5" fill="#e8b48a" fill-opacity="0.024" stroke="#fff" stroke-opacity="0.2" stroke-width="1.5"/>
<circle cx="341.3" cy="519.6" r="14.5" fill="#c98ea2" fill-opacity="0.024" stroke="#fff" stroke-opacity="0.2" stroke-width="1.5"/>
<circle cx="470.8" cy="304.3" r="14.5" fill="#8a84bc" fill-opacity="0.024" stroke="#fff" stroke-opacity="0.2" stroke-width="1.5"/>
<circle cx="135.1" cy="292.2" r="14.5" fill="#8a84bc" fill-opacity="0.024" stroke="#fff" stroke-opacity="0.2" stroke-width="1.5"/>
<circle cx="610.5" cy="354.9" r="14.5" fill="#8a84bc" fill-opacity="0.024" stroke="#fff" stroke-opacity="0.2" stroke-width="1.5"/>
<circle cx="504.4" cy="477.6" r="14.5" fill="#e8b48a" fill-opacity="0.024" stroke="#fff" stroke-opacity="0.2" stroke-width="1.5"/>
<circle cx="641.2" cy="366.5" r="14.5" fill="#e8b48a" fill-opacity="0.024" stroke="#fff" stroke-opacity="0.2" stroke-width="1.5"/>
<circle cx="510.8" cy="263.5" r="14.5" fill="#8a84bc" fill-opacity="0.024" stroke="#fff" stroke-opacity="0.2" stroke-width="1.5"/>
<circle cx="365.9" cy="246.4" r="14.5" fill="#8a84bc" fill-opacity="0.024" stroke="#fff" stroke-opacity="0.2" stroke-width="1.5"/>
<circle cx="578.0" cy="282.3" r="14.5" fill="#8a84bc" fill-opacity="0.024" stroke="#fff" stroke-opacity="0.2" stroke-width="1.5"/>
<circle cx="390.8" cy="343.3" r="14.5" fill="#c98ea2" fill-opacity="0.024" stroke="#fff" stroke-opacity="0.2" stroke-width="1.5"/>
<circle cx="568.6" cy="212.8" r="14.5" fill="#c98ea2" fill-opacity="0.024" stroke="#fff" stroke-opacity="0.2" stroke-width="1.5"/>
<circle cx="487.4" cy="195.2" r="14.5" fill="#e8b48a" fill-opacity="0.024" stroke="#fff" stroke-opacity="0.2" stroke-width="1.5"/>
<circle cx="380.5" cy="388.8" r="14.5" fill="#b0d2a0" fill-opacity="0.024" stroke="#fff" stroke-opacity="0.2" stroke-width="1.5"/>
<circle cx="345.7" cy="362.6" r="14.5" fill="#8a84bc" fill-opacity="0.024" stroke="#fff" stroke-opacity="0.2" stroke-width="1.5"/>
<circle cx="346.6" cy="248.8" r="14.5" fill="#c98ea2" fill-opacity="0.024" stroke="#fff" stroke-opacity="0.2" stroke-width="1.5"/>
<circle cx="663.9" cy="382.7" r="14.5" fill="#c98ea2" fill-opacity="0.024" stroke="#fff" stroke-opacity="0.2" stroke-width="1.5"/>
<circle cx="635.8" cy="297.4" r="14.5" fill="#8a84bc" fill-opacity="0.024" stroke="#fff" stroke-opacity="0.2" stroke-width="1.5"/>
<circle cx="381.3" cy="485.9" r="14.5" fill="#e8b48a" fill-opacity="0.024" stroke="#fff" stroke-opacity="0.2" stroke-width="1.5"/>
<circle cx="523.3" cy="527.1" r="14.5" fill="#c98ea2" fill-opacity="0.024" stroke="#fff" stroke-opacity="0.2" stroke-width="1.5"/>
<circle cx="327.1" cy="333.2" r="14.5" fill="#8a84bc" fill-opacity="0.024" stroke="#fff" stroke-opacity="0.2" stroke-width="1.5"/>
<circle cx="421.1" cy="300.1" r="14.5" fill="#c98ea2" fill-opacity="0.024" stroke="#fff" stroke-opacity="0.2" stroke-width="1.5"/>
<circle cx="308.6" cy="315.1" r="14.5" fill="#8a84bc" fill-opacity="0.024" stroke="#fff" stroke-opacity="0.2" stroke-width="1.5"/>
<circle cx="368.7" cy="277.0" r="14.5" fill="#8a84bc" fill-opacity="0.024" stroke="#fff" stroke-opacity="0.2" stroke-width="1.5"/>
<circle cx="570.7" cy="182.4" r="14.5" fill="#8a84bc" fill-opacity="0.024" stroke="#fff" stroke-opacity="0.2" stroke-width="1.5"/>
<circle cx="315.4" cy="373.7" r="14.5" fill="#c98ea2" fill-opacity="0.024" stroke="#fff" stroke-opacity="0.2" stroke-width="1.5"/>
<circle cx="328.4" cy="272.3" r="14.5" fill="#8a84bc" fill-opacity="0.024" stroke="#fff" stroke-opacity="0.2" stroke-width="1.5"/>
<circle cx="328.0" cy="452.5" r="14.5" fill="#b0d2a0" fill-opacity="0.024" stroke="#fff" stroke-opacity="0.2" stroke-width="1.5"/>
<circle cx="311.3" cy="306.6" r="14.5" fill="#b0d2a0" fill-opacity="0.024" stroke="#fff" stroke-opacity="0.2" stroke-width="1.5"/>
<circle cx="378.7" cy="476.7" r="14.5" fill="#c98ea2" fill-opacity="0.024" stroke="#fff" stroke-opacity="0.2" stroke-width="1.5"/>
<circle cx="536.1" cy="158.0" r="14.5" fill="#8a84bc" fill-opacity="0.024" stroke="#fff" stroke-opacity="0.2" stroke-width="1.5"/>
<circle cx="221.2" cy="436.9" r="14.5" fill="#c98ea2" fill-opacity="0.024" stroke="#fff" stroke-opacity="0.2" stroke-width="1.5"/>
<circle cx="547.8" cy="387.7" r="14.5" fill="#8a84bc" fill-opacity="0.024" stroke="#fff" stroke-opacity="0.2" stroke-width="1.5"/>
<circle cx="627.6" cy="395.1" r="14.5" fill="#8a84bc" fill-opacity="0.024" stroke="#fff" stroke-opacity="0.2" stroke-width="1.5"/>
<circle cx="619.9" cy="409.7" r="14.5" fill="#c98ea2" fill-opacity="0.024" stroke="#fff" stroke-opacity="0.2" stroke-width="1.5"/>
<circle cx="520.1" cy="556.4" r="14.5" fill="#c98ea2" fill-opacity="0.024" stroke="#fff" stroke-opacity="0.2" stroke-width="1.5"/>
<circle cx="290.5" cy="306.5" r="14.5" fill="#8a84bc" fill-opacity="0.024" stroke="#fff" stroke-opacity="0.2" stroke-width="1.5"/>
<circle cx="440.1" cy="381.5" r="14.5" fill="#c98ea2" fill-opacity="0.024" stroke="#fff" stroke-opacity="0.2" stroke-width="1.5"/>
<circle cx="381.4" cy="386.6" r="14.5" fill="#8a84bc" fill-opacity="0.024" stroke="#fff" stroke-opacity="0.2" stroke-width="1.5"/>
<circle cx="332.5" cy="441.9" r="14.5" fill="#c98ea2" fill-opacity="0.024" stroke="#fff" stroke-opacity="0.2" stroke-width="1.5"/>
<circle cx="385.9" cy="396.6" r="14.5" fill="#c98ea2" fill-opacity="0.024" stroke="#fff" stroke-opacity="0.2" stroke-width="1.5"/>
<circle cx="677.4" cy="486.1" r="14.5" fill="#c98ea2" fill-opacity="0.024" stroke="#fff" stroke-opacity="0.2" stroke-width="1.5"/>
<circle cx="497.9" cy="312.6" r="14.5" fill="#8a84bc" fill-opacity="0.024" stroke="#fff" stroke-opacity="0.2" stroke-width="1.5"/>
<circle cx="428.8" cy="252.9" r="14.5" fill="#c98ea2" fill-opacity="0.024" stroke="#fff" stroke-opacity="0.2" stroke-width="1.5"/>
<circle cx="455.8" cy="406.9" r="14.5" fill="#c98ea2" fill-opacity="0.024" stroke="#fff" stroke-opacity="0.2" stroke-width="1.5"/>
<circle cx="406.6" cy="193.2" r="14.5" fill="#c98ea2" fill-opacity="0.024" stroke="#fff" stroke-opacity="0.2" stroke-width="1.5"/>
<circle cx="431.1" cy="325.5" r="14.5" fill="#c98ea2" fill-opacity="0.024" stroke="#fff" stroke-opacity="0.2" stroke-width="1.5"/>
<circle cx="471.1" cy="530.4" r="14.5" fill="#8a84bc" fill-opacity="0.024" stroke="#fff" stroke-opacity="0.2" stroke-width="1.5"/>
<circle cx="171.8" cy="198.2" r="14.5" fill="#8a84bc" fill-opacity="0.024" stroke="#fff" stroke-opacity="0.2" stroke-width="1.5"/>
<circle cx="292.7" cy="272.8" r="14.5" fill="#8a84bc" fill-opacity="0.024" stroke="#fff" stroke-opacity="0.2" stroke-width="1.5"/>
<circle cx="698.7" cy="240.1" r="14.5" fill="#8a84bc" fill-opacity="0.024" stroke="#fff" stroke-opacity="0.2" stroke-width="1.5"/>
<circle cx="429.2" cy="475.2" r="14.5" fill="#c98ea2" fill-opacity="0.024" stroke="#fff" stroke-opacity="0.2" stroke-width="1.5"/>
<circle cx="355.1" cy="266.4" r="14.5" fill="#c98ea2" fill-opacity="0.024" stroke="#fff" stroke-opacity="0.2" stroke-width="1.5"/>
<circle cx="371.8" cy="303.4" r="14.5" fill="#8a84bc" fill-opacity="0.024" stroke="#fff" stroke-opacity="0.2" stroke-width="1.5"/>
<circle cx="537.7" cy="326.5" r="14.5" fill="#8a84bc" fill-opacity="0.024" stroke="#fff" stroke-opacity="0.2" stroke-width="1.5"/>
<circle cx="162.8" cy="304.5" r="14.5" fill="#8a84bc" fill-opacity="0.024" stroke="#fff" stroke-opacity="0.2" stroke-width="1.5"/>
<circle cx="294.3" cy="348.4" r="14.5" fill="#c98ea2" fill-opacity="0.024" stroke="#fff" stroke-opacity="0.2" stroke-width="1.5"/>
<circle cx="254.1" cy="329.7" r="14.5" fill="#8a84bc" fill-opacity="0.024" stroke="#fff" stroke-opacity="0.2" stroke-width="1.5"/>
<circle cx="529.9" cy="303.7" r="14.5" fill="#e8b48a" fill-opacity="0.024" stroke="#fff" stroke-opacity="0.2" stroke-width="1.5"/>
<circle cx="511.0" cy="214.3" r="14.5" fill="#8a84bc" fill-opacity="0.024" stroke="#fff" stroke-opacity="0.2" stroke-width="1.5"/>
<circle cx="473.9" cy="338.4" r="14.5" fill="#c98ea2" fill-opacity="0.024" stroke="#fff" stroke-opacity="0.2" stroke-width="1.5"/>
<circle cx="494.7" cy="368.0" r="14.5" fill="#c98ea2" fill-opacity="0.024" stroke="#fff" stroke-opacity="0.2" stroke-width="1.5"/>
<circle cx="429.4" cy="535.1" r="14.5" fill="#b0d2a0" fill-opacity="0.024" stroke="#fff" stroke-opacity="0.2" stroke-width="1.5"/>
<circle cx="489.8" cy="366.8" r="14.5" fill="#b0d2a0" fill-opacity="0.024" stroke="#fff" stroke-opacity="0.2" stroke-width="1.5"/>
<circle cx="654.4" cy="384.6" r="14.5" fill="#c98ea2" fill-opacity="0.024" stroke="#fff" stroke-opacity="0.2" stroke-width="1.5"/>
<circle cx="587.7" cy="281.3" r="14.5" fill="#e8b48a" fill-opacity="0.024" stroke="#fff" stroke-opacity="0.2" stroke-width="1.5"/>
<circle cx="528.1" cy="347.5" r="14.5" fill="#e8b48a" fill-opacity="0.024" stroke="#fff" stroke-opacity="0.2" stroke-width="1.5"/>
<circle cx="463.6" cy="306.9" r="14.5" fill="#c98ea2" fill-opacity="0.024" stroke="#fff" stroke-opacity="0.2" stroke-width="1.5"/>
<circle cx="446.8" cy="274.9" r="14.5" fill="#b0d2a0" fill-opacity="0.024" stroke="#fff" stroke-opacity="0.2" stroke-width="1.5"/>
<circle cx="119.1" cy="306.7" r="14.5" fill="#8a84bc" fill-opacity="0.024" stroke="#fff" stroke-opacity="0.2" stroke-width="1.5"/>
<circle cx="508.7" cy="318.2" r="14.5" fill="#e8b48a" fill-opacity="0.024" stroke="#fff" stroke-opacity="0.2" stroke-width="1.5"/>
<circle cx="444.3" cy="425.8" r="14.5" fill="#c98ea2" fill-opacity="0.024" stroke="#fff" stroke-opacity="0.2" stroke-width="1.5"/>
<circle cx="620.3" cy="272.1" r="14.5" fill="#e8b48a" fill-opacity="0.024" stroke="#fff" stroke-opacity="0.2" stroke-width="1.5"/>
<circle cx="358.8" cy="313.8" r="14.5" fill="#8a84bc" fill-opacity="0.024" stroke="#fff" stroke-opacity="0.2" stroke-width="1.5"/>
<circle cx="556.9" cy="338.2" r="14.5" fill="#e8b48a" fill-opacity="0.024" stroke="#fff" stroke-opacity="0.2" stroke-width="1.5"/>
<circle cx="490.6" cy="281.1" r="14.5" fill="#8a84bc" fill-opacity="0.024" stroke="#fff" stroke-opacity="0.2" stroke-width="1.5"/>
<circle cx="457.3" cy="349.6" r="14.5" fill="#8a84bc" fill-opacity="0.024" stroke="#fff" stroke-opacity="0.2" stroke-width="1.5"/>
<circle cx="519.4" cy="365.6" r="14.5" fill="#8a84bc" fill-opacity="0.024" stroke="#fff" stroke-opacity="0.2" stroke-width="1.5"/>
<circle cx="596.4" cy="400.0" r="14.5" fill="#c98ea2" fill-opacity="0.024" stroke="#fff" stroke-opacity="0.2" stroke-width="1.5"/>
<circle cx="397.8" cy="350.6" r="14.5" fill="#c98ea2" fill-opacity="0.024" stroke="#fff" stroke-opacity="0.2" stroke-width="1.5"/>
<circle cx="449.3" cy="329.5" r="14.5" fill="#8a84bc" fill-opacity="0.024" stroke="#fff" stroke-opacity="0.2" stroke-width="1.5"/>
<circle cx="386.7" cy="224.2" r="14.5" fill="#8a84bc" fill-opacity="0.024" stroke="#fff" stroke-opacity="0.2" stroke-width="1.5"/>
<circle cx="419.6" cy="407.6" r="14.5" fill="#b0d2a0" fill-opacity="0.024" stroke="#fff" stroke-opacity="0.2" stroke-width="1.5"/>
<circle cx="496.2" cy="394.8" r="14.5" fill="#e8b48a" fill-opacity="0.024" stroke="#fff" stroke-opacity="0.2" stroke-width="1.5"/>
<circle cx="534.1" cy="299.1" r="14.5" fill="#c98ea2" fill-opacity="0.024" stroke="#fff" stroke-opacity="0.2" stroke-width="1.5"/>
<circle cx="374.2" cy="118.3" r="14.5" fill="#8a84bc" fill-opacity="0.024" stroke="#fff" stroke-opacity="0.2" stroke-width="1.5"/>
<circle cx="353.4" cy="232.3" r="14.5" fill="#8a84bc" fill-opacity="0.024" stroke="#fff" stroke-opacity="0.2" stroke-width="1.5"/>
<circle cx="524.4" cy="306.2" r="14.5" fill="#c98ea2" fill-opacity="0.024" stroke="#fff" stroke-opacity="0.2" stroke-width="1.5"/>
<circle cx="419.7" cy="426.8" r="14.5" fill="#e8b48a" fill-opacity="0.024" stroke="#fff" stroke-opacity="0.2" stroke-width="1.5"/>
<circle cx="402.9" cy="369.7" r="14.5" fill="#8a84bc" fill-opacity="0.024" stroke="#fff" stroke-opacity="0.2" stroke-width="1.5"/>
<circle cx="620.2" cy="423.6" r="14.5" fill="#c98ea2" fill-opacity="0.024" stroke="#fff" stroke-opacity="0.2" stroke-width="1.5"/>
<circle cx="389.0" cy="239.4" r="14.5" fill="#8a84bc" fill-opacity="0.024" stroke="#fff" stroke-opacity="0.2" stroke-width="1.5"/>
<circle cx="591.2" cy="503.2" r="14.5" fill="#e8b48a" fill-opacity="0.024" stroke="#fff" stroke-opacity="0.2" stroke-width="1.5"/>
<circle cx="397.1" cy="315.8" r="14.5" fill="#8a84bc" fill-opacity="0.024" stroke="#fff" stroke-opacity="0.2" stroke-width="1.5"/>
<circle cx="586.6" cy="527.8" r="14.5" fill="#c98ea2" fill-opacity="0.024" stroke="#fff" stroke-opacity="0.2" stroke-width="1.5"/>
<circle cx="437.9" cy="251.3" r="14.5" fill="#8a84bc" fill-opacity="0.024" stroke="#fff" stroke-opacity="0.2" stroke-width="1.5"/>
<circle cx="395.4" cy="85.4" r="14.5" fill="#8a84bc" fill-opacity="0.024" stroke="#fff" stroke-opacity="0.2" stroke-width="1.5"/>
<circle cx="569.0" cy="222.2" r="14.5" fill="#c98ea2" fill-opacity="0.024" stroke="#fff" stroke-opacity="0.2" stroke-width="1.5"/>
<circle cx="478.0" cy="586.2" r="14.5" fill="#8a84bc" fill-opacity="0.024" stroke="#fff" stroke-opacity="0.2" stroke-width="1.5"/>
<circle cx="387.6" cy="388.7" r="14.5" fill="#8a84bc" fill-opacity="0.024" stroke="#fff" stroke-opacity="0.2" stroke-width="1.5"/>
<circle cx="359.3" cy="387.1" r="14.5" fill="#8a84bc" fill-opacity="0.024" stroke="#fff" stroke-opacity="0.2" stroke-width="1.5"/>
<circle cx="304.6" cy="364.7" r="14.5" fill="#8a84bc" fill-opacity="0.024" stroke="#fff" stroke-opacity="0.2" stroke-width="1.5"/>
<circle cx="536.1" cy="392.3" r="14.5" fill="#c98ea2" fill-opacity="0.024" stroke="#fff" stroke-opacity="0.2" stroke-width="1.5"/>
<circle cx="222.4" cy="497.9" r="14.5" fill="#b0d2a0" fill-opacity="0.024" stroke="#fff" stroke-opacity="0.2" stroke-width="1.5"/>
<circle cx="499.5" cy="448.7" r="14.5" fill="#8a84bc" fill-opacity="0.024" stroke="#fff" stroke-opacity="0.2" stroke-width="1.5"/>
<circle cx="599.4" cy="563.2" r="14.5" fill="#c98ea2" fill-opacity="0.024" stroke="#fff" stroke-opacity="0.2" stroke-width="1.5"/>
<circle cx="468.9" cy="323.3" r="14.5" fill="#e8b48a" fill-opacity="0.024" stroke="#fff" stroke-opacity="0.2" stroke-width="1.5"/>
<circle cx="432.9" cy="265.3" r="14.5" fill="#8a84bc" fill-opacity="0.024" stroke="#fff" stroke-opacity="0.2" stroke-width="1.5"/>
<circle cx="567.8" cy="390.1" r="14.5" fill="#c98ea2" fill-opacity="0.024" stroke="#fff" stroke-opacity="0.2" stroke-width="1.5"/>
<circle cx="517.8" cy="428.1" r="14.5" fill="#c98ea2" fill-opacity="0.024" stroke="#fff" stroke-opacity="0.2" stroke-width="1.5"/>
<circle cx="365.0" cy="233.7" r="14.5" fill="#c98ea2" fill-opacity="0.024" stroke="#fff" stroke-opacity="0.2" stroke-width="1.5"/>
<circle cx="360.7" cy="323.3" r="14.5" fill="#e8b48a" fill-opacity="0.024" stroke="#fff" stroke-opacity="0.2" stroke-width="1.5"/>
<circle cx="443.2" cy="324.9" r="14.5" fill="#8a84bc" fill-opacity="0.024" stroke="#fff" stroke-opacity="0.2" stroke-width="1.5"/>
<circle cx="637.1" cy="432.4" r="14.5" fill="#b0d2a0" fill-opacity="0.024" stroke="#fff" stroke-opacity="0.2" stroke-width="1.5"/>
<circle cx="617.9" cy="525.7" r="14.5" fill="#c98ea2" fill-opacity="0.024" stroke="#fff" stroke-opacity="0.2" stroke-width="1.5"/>
<circle cx="370.2" cy="348.4" r="14.5" fill="#8a84bc" fill-opacity="0.024" stroke="#fff" stroke-opacity="0.2" stroke-width="1.5"/>
<circle cx="474.0" cy="388.4" r="14.5" fill="#e8b48a" fill-opacity="0.024" stroke="#fff" stroke-opacity="0.2" stroke-width="1.5"/>
<circle cx="435.3" cy="255.2" r="14.5" fill="#8a84bc" fill-opacity="0.024" stroke="#fff" stroke-opacity="0.2" stroke-width="1.5"/>
<circle cx="546.5" cy="273.2" r="14.5" fill="#c98ea2" fill-opacity="0.024" stroke="#fff" stroke-opacity="0.2" stroke-width="1.5"/>
<circle cx="425.7" cy="249.5" r="14.5" fill="#e8b48a" fill-opacity="0.024" stroke="#fff" stroke-opacity="0.2" stroke-width="1.5"/>
<circle cx="298.0" cy="400.2" r="14.5" fill="#8a84bc" fill-opacity="0.024" stroke="#fff" stroke-opacity="0.2" stroke-width="1.5"/>
<circle cx="321.2" cy="236.2" r="14.5" fill="#e8b48a" fill-opacity="0.024" stroke="#fff" stroke-opacity="0.2" stroke-width="1.5"/>
<circle cx="392.1" cy="230.2" r="14.5" fill="#8a84bc" fill-opacity="0.024" stroke="#fff" stroke-opacity="0.2" stroke-width="1.5"/>
<circle cx="566.7" cy="308.9" r="14.5" fill="#8a84bc" fill-opacity="0.024" stroke="#fff" stroke-opacity="0.2" stroke-width="1.5"/>
<circle cx="539.0" cy="354.5" r="14.5" fill="#8a84bc" fill-opacity="0.024" stroke="#fff" stroke-opacity="0.2" stroke-width="1.5"/>
<circle cx="295.1" cy="467.5" r="14.5" fill="#b0d2a0" fill-opacity="0.024" stroke="#fff" stroke-opacity="0.2" stroke-width="1.5"/>
<circle cx="623.9" cy="314.6" r="14.5" fill="#8a84bc" fill-opacity="0.024" stroke="#fff" stroke-opacity="0.2" stroke-width="1.5"/>
<circle cx="458.4" cy="303.6" r="14.5" fill="#c98ea2" fill-opacity="0.024" stroke="#fff" stroke-opacity="0.2" stroke-width="1.5"/>
<circle cx="345.2" cy="386.4" r="14.5" fill="#c98ea2" fill-opacity="0.024" stroke="#fff" stroke-opacity="0.2" stroke-width="1.5"/>
<circle cx="467.7" cy="341.7" r="14.5" fill="#e8b48a" fill-opacity="0.024" stroke="#fff" stroke-opacity="0.2" stroke-width="1.5"/>
<circle cx="449.8" cy="335.1" r="14.5" fill="#8a84bc" fill-opacity="0.024" stroke="#fff" stroke-opacity="0.2" stroke-width="1.5"/>
<circle cx="171.7" cy="340.7" r="14.5" fill="#8a84bc" fill-opacity="0.024" stroke="#fff" stroke-opacity="0.2" stroke-width="1.5"/>
<circle cx="587.3" cy="202.9" r="14.5" fill="#8a84bc" fill-opacity="0.024" stroke="#fff" stroke-opacity="0.2" stroke-width="1.5"/>
<circle cx="430.5" cy="459.5" r="14.5" fill="#b0d2a0" fill-opacity="0.024" stroke="#fff" stroke-opacity="0.2" stroke-width="1.5"/>
<circle cx="628.5" cy="364.2" r="14.5" fill="#8a84bc" fill-opacity="0.024" stroke="#fff" stroke-opacity="0.2" stroke-width="1.5"/>
<circle cx="337.2" cy="240.6" r="14.5" fill="#c98ea2" fill-opacity="0.024" stroke="#fff" stroke-opacity="0.2" stroke-width="1.5"/>
<circle cx="352.3" cy="166.2" r="14.5" fill="#8a84bc" fill-opacity="0.024" stroke="#fff" stroke-opacity="0.2" stroke-width="1.5"/>
<circle cx="563.2" cy="363.4" r="14.5" fill="#b0d2a0" fill-opacity="0.024" stroke="#fff" stroke-opacity="0.2" stroke-width="1.5"/>
<circle cx="500.1" cy="282.3" r="14.5" fill="#c98ea2" fill-opacity="0.024" stroke="#fff" stroke-opacity="0.2" stroke-width="1.5"/>
<circle cx="395.2" cy="353.4" r="14.5" fill="#c98ea2" fill-opacity="0.024" stroke="#fff" stroke-opacity="0.2" stroke-width="1.5"/>
<circle cx="421.7" cy="417.6" r="14.5" fill="#8a84bc" fill-opacity="0.024" stroke="#fff" stroke-opacity="0.2" stroke-width="1.5"/>
<circle cx="287.0" cy="326.8" r="14.5" fill="#8a84bc" fill-opacity="0.024" stroke="#fff" stroke-opacity="0.2" stroke-width="1.5"/>
<circle cx="291.4" cy="506.3" r="14.5" fill="#e8b48a" fill-opacity="0.024" stroke="#fff" stroke-opacity="0.2" stroke-width="1.5"/>
<circle cx="465.3" cy="167.4" r="14.5" fill="#8a84bc" fill-opacity="0.024" stroke="#fff" stroke-opacity="0.2" stroke-width="1.5"/>
<circle cx="422.0" cy="435.4" r="14.5" fill="#8a84bc" fill-opacity="0.024" stroke="#fff" stroke-opacity="0.2" stroke-width="1.5"/>
<circle cx="428.6" cy="303.1" r="14.5" fill="#b0d2a0" fill-opacity="0.024" stroke="#fff" stroke-opacity="0.2" stroke-width="1.5"/>
<circle cx="415.9" cy="319.5" r="14.5" fill="#c98ea2" fill-opacity="0.024" stroke="#fff" stroke-opacity="0.2" stroke-width="1.5"/>
<circle cx="252.5" cy="348.2" r="14.5" fill="#8a84bc" fill-opacity="0.024" stroke="#fff" stroke-opacity="0.2" stroke-width="1.5"/>
<circle cx="669.6" cy="320.6" r="14.5" fill="#c98ea2" fill-opacity="0.024" stroke="#fff" stroke-opacity="0.2" stroke-width="1.5"/>
<circle cx="483.6" cy="312.3" r="14.5" fill="#c98ea2" fill-opacity="0.024" stroke="#fff" stroke-opacity="0.2" stroke-width="1.5"/>
<circle cx="427.9" cy="256.4" r="14.5" fill="#8a84bc" fill-opacity="0.024" stroke="#fff" stroke-opacity="0.2" stroke-width="1.5"/>
<circle cx="264.0" cy="416.5" r="14.5" fill="#c98ea2" fill-opacity="0.024" stroke="#fff" stroke-opacity="0.2" stroke-width="1.5"/>
<circle cx="651.3" cy="344.1" r="14.5" fill="#8a84bc" fill-opacity="0.024" stroke="#fff" stroke-opacity="0.2" stroke-width="1.5"/>
<circle cx="384.8" cy="291.7" r="14.5" fill="#8a84bc" fill-opacity="0.024" stroke="#fff" stroke-opacity="0.2" stroke-width="1.5"/>
<circle cx="516.2" cy="348.7" r="14.5" fill="#8a84bc" fill-opacity="0.024" stroke="#fff" stroke-opacity="0.2" stroke-width="1.5"/>
<circle cx="479.3" cy="383.7" r="14.5" fill="#8a84bc" fill-opacity="0.024" stroke="#fff" stroke-opacity="0.2" stroke-width="1.5"/>
<circle cx="564.2" cy="238.3" r="14.5" fill="#e8b48a" fill-opacity="0.024" stroke="#fff" stroke-opacity="0.2" stroke-width="1.5"/>
<circle cx="571.8" cy="331.3" r="14.5" fill="#8a84bc" fill-opacity="0.024" stroke="#fff" stroke-opacity="0.2" stroke-width="1.5"/>
<circle cx="580.1" cy="348.0" r="14.5" fill="#8a84bc" fill-opacity="0.024" stroke="#fff" stroke-opacity="0.2" stroke-width="1.5"/>
<circle cx="576.8" cy="236.0" r="14.5" fill="#8a84bc" fill-opacity="0.024" stroke="#fff" stroke-opacity="0.2" stroke-width="1.5"/>
<circle cx="212.0" cy="330.9" r="14.5" fill="#8a84bc" fill-opacity="0.024" stroke="#fff" stroke-opacity="0.2" stroke-width="1.5"/>
<circle cx="332.2" cy="358.3" r="14.5" fill="#8a84bc" fill-opacity="0.024" stroke="#fff" stroke-opacity="0.2" stroke-width="1.5"/>
<circle cx="512.5" cy="346.8" r="14.5" fill="#c98ea2" fill-opacity="0.024" stroke="#fff" stroke-opacity="0.2" stroke-width="1.5"/>
<circle cx="477.5" cy="291.1" r="14.5" fill="#c98ea2" fill-opacity="0.024" stroke="#fff" stroke-opacity="0.2" stroke-width="1.5"/>
<circle cx="303.4" cy="494.0" r="14.5" fill="#8a84bc" fill-opacity="0.024" stroke="#fff" stroke-opacity="0.2" stroke-width="1.5"/>
<circle cx="483.1" cy="294.1" r="14.5" fill="#8a84bc" fill-opacity="0.024" stroke="#fff" stroke-opacity="0.2" stroke-width="1.5"/>
<circle cx="601.1" cy="230.6" r="14.5" fill="#c98ea2" fill-opacity="0.024" stroke="#fff" stroke-opacity="0.2" stroke-width="1.5"/>
<circle cx="418.2" cy="423.3" r="14.5" fill="#c98ea2" fill-opacity="0.024" stroke="#fff" stroke-opacity="0.2" stroke-width="1.5"/>
<circle cx="484.0" cy="424.5" r="14.5" fill="#e8b48a" fill-opacity="0.024" stroke="#fff" stroke-opacity="0.2" stroke-width="1.5"/>
<circle cx="446.2" cy="363.0" r="14.5" fill="#e8b48a" fill-opacity="0.024" stroke="#fff" stroke-opacity="0.2" stroke-width="1.5"/>
<circle cx="460.6" cy="365.6" r="14.5" fill="#8a84bc" fill-opacity="0.024" stroke="#fff" stroke-opacity="0.2" stroke-width="1.5"/>
<circle cx="319.1" cy="305.3" r="14.5" fill="#8a84bc" fill-opacity="0.024" stroke="#fff" stroke-opacity="0.2" stroke-width="1.5"/>
<circle cx="545.6" cy="553.9" r="14.5" fill="#e8b48a" fill-opacity="0.024" stroke="#fff" stroke-opacity="0.2" stroke-width="1.5"/>
<circle cx="683.5" cy="295.0" r="14.5" fill="#c98ea2" fill-opacity="0.024" stroke="#fff" stroke-opacity="0.2" stroke-width="1.5"/>
<circle cx="335.1" cy="239.2" r="14.5" fill="#8a84bc" fill-opacity="0.024" stroke="#fff" stroke-opacity="0.2" stroke-width="1.5"/>
<circle cx="635.2" cy="404.5" r="14.5" fill="#c98ea2" fill-opacity="0.024" stroke="#fff" stroke-opacity="0.2" stroke-width="1.5"/>
<circle cx="423.2" cy="364.6" r="14.5" fill="#c98ea2" fill-opacity="0.024" stroke="#fff" stroke-opacity="0.2" stroke-width="1.5"/>
<circle cx="625.1" cy="389.8" r="14.5" fill="#c98ea2" fill-opacity="0.024" stroke="#fff" stroke-opacity="0.2" stroke-width="1.5"/>
<circle cx="507.1" cy="470.6" r="14.5" fill="#8a84bc" fill-opacity="0.024" stroke="#fff" stroke-opacity="0.2" stroke-width="1.5"/>
<circle cx="383.2" cy="177.9" r="14.5" fill="#8a84bc" fill-opacity="0.024" stroke="#fff" stroke-opacity="0.2" stroke-width="1.5"/>
<circle cx="414.4" cy="323.0" r="14.5" fill="#8a84bc" fill-opacity="0.024" stroke="#fff" stroke-opacity="0.2" stroke-width="1.5"/>
<circle cx="710.2" cy="442.9" r="14.5" fill="#c98ea2" fill-opacity="0.024" stroke="#fff" stroke-opacity="0.2" stroke-width="1.5"/>
<circle cx="299.0" cy="335.7" r="14.5" fill="#8a84bc" fill-opacity="0.024" stroke="#fff" stroke-opacity="0.2" stroke-width="1.5"/>
<circle cx="575.6" cy="202.2" r="14.5" fill="#8a84bc" fill-opacity="0.024" stroke="#fff" stroke-opacity="0.2" stroke-width="1.5"/>
<circle cx="399.3" cy="283.3" r="14.5" fill="#8a84bc" fill-opacity="0.024" stroke="#fff" stroke-opacity="0.2" stroke-width="1.5"/>
<circle cx="194.2" cy="247.2" r="14.5" fill="#8a84bc" fill-opacity="0.024" stroke="#fff" stroke-opacity="0.2" stroke-width="1.5"/>
<circle cx="462.2" cy="303.5" r="14.5" fill="#8a84bc" fill-opacity="0.024" stroke="#fff" stroke-opacity="0.2" stroke-width="1.5"/>
<circle cx="469.4" cy="517.4" r="14.5" fill="#e8b48a" fill-opacity="0.024" stroke="#fff" stroke-opacity="0.2" stroke-width="1.5"/>
<circle cx="417.1" cy="391.5" r="14.5" fill="#c98ea2" fill-opacity="0.024" stroke="#fff" stroke-opacity="0.2" stroke-width="1.5"/>
<circle cx="646.1" cy="393.4" r="14.5" fill="#c98ea2" fill-opacity="0.024" stroke="#fff" stroke-opacity="0.2" stroke-width="1.5"/>
<circle cx="406.1" cy="447.2" r="14.5" fill="#8a84bc" fill-opacity="0.024" stroke="#fff" stroke-opacity="0.2" stroke-width="1.5"/>
<circle cx="470.1" cy="404.8" r="14.5" fill="#8a84bc" fill-opacity="0.024" stroke="#fff" stroke-opacity="0.2" stroke-width="1.5"/>
<circle cx="506.1" cy="292.9" r="14.5" fill="#8a84bc" fill-opacity="0.024" stroke="#fff" stroke-opacity="0.2" stroke-width="1.5"/>
<circle cx="557.6" cy="176.8" r="14.5" fill="#8a84bc" fill-opacity="0.024" stroke="#fff" stroke-opacity="0.2" stroke-width="1.5"/>
<circle cx="368.0" cy="363.7" r="14.5" fill="#8a84bc" fill-opacity="0.024" stroke="#fff" stroke-opacity="0.2" stroke-width="1.5"/>
<circle cx="454.3" cy="290.1" r="14.5" fill="#8a84bc" fill-opacity="0.024" stroke="#fff" stroke-opacity="0.2" stroke-width="1.5"/>
<circle cx="595.1" cy="551.6" r="14.5" fill="#c98ea2" fill-opacity="0.024" stroke="#fff" stroke-opacity="0.2" stroke-width="1.5"/>
<circle cx="321.2" cy="377.1" r="14.5" fill="#8a84bc" fill-opacity="0.024" stroke="#fff" stroke-opacity="0.2" stroke-width="1.5"/>
<circle cx="549.5" cy="499.6" r="14.5" fill="#e8b48a" fill-opacity="0.024" stroke="#fff" stroke-opacity="0.2" stroke-width="1.5"/>
<circle cx="267.5" cy="197.0" r="14.5" fill="#8a84bc" fill-opacity="0.024" stroke="#fff" stroke-opacity="0.2" stroke-width="1.5"/>
<circle cx="467.1" cy="273.7" r="14.5" fill="#c98ea2" fill-opacity="0.024" stroke="#fff" stroke-opacity="0.2" stroke-width="1.5"/>
<circle cx="590.4" cy="428.8" r="14.5" fill="#8a84bc" fill-opacity="0.024" stroke="#fff" stroke-opacity="0.2" stroke-width="1.5"/>
<circle cx="306.7" cy="522.7" r="14.5" fill="#c98ea2" fill-opacity="0.024" stroke="#fff" stroke-opacity="0.2" stroke-width="1.5"/>
<circle cx="545.4" cy="312.8" r="14.5" fill="#8a84bc" fill-opacity="0.024" stroke="#fff" stroke-opacity="0.2" stroke-width="1.5"/>
<circle cx="304.2" cy="199.9" r="14.5" fill="#e8b48a" fill-opacity="0.024" stroke="#fff" stroke-opacity="0.2" stroke-width="1.5"/>
<circle cx="165.5" cy="196.2" r="14.5" fill="#8a84bc" fill-opacity="0.024" stroke="#fff" stroke-opacity="0.2" stroke-width="1.5"/>
<circle cx="406.6" cy="391.0" r="14.5" fill="#8a84bc" fill-opacity="0.024" stroke="#fff" stroke-opacity="0.2" stroke-width="1.5"/>
<circle cx="209.1" cy="151.5" r="14.5" fill="#8a84bc" fill-opacity="0.024" stroke="#fff" stroke-opacity="0.2" stroke-width="1.5"/>
<circle cx="589.3" cy="269.8" r="14.5" fill="#8a84bc" fill-opacity="0.024" stroke="#fff" stroke-opacity="0.2" stroke-width="1.5"/>
<circle cx="613.6" cy="383.2" r="14.5" fill="#c98ea2" fill-opacity="0.024" stroke="#fff" stroke-opacity="0.2" stroke-width="1.5"/>
<circle cx="584.1" cy="259.3" r="14.5" fill="#c98ea2" fill-opacity="0.024" stroke="#fff" stroke-opacity="0.2" stroke-width="1.5"/>
<circle cx="569.9" cy="459.3" r="14.5" fill="#c98ea2" fill-opacity="0.024" stroke="#fff" stroke-opacity="0.2" stroke-width="1.5"/>
<circle cx="394.8" cy="452.0" r="14.5" fill="#8a84bc" fill-opacity="0.024" stroke="#fff" stroke-opacity="0.2" stroke-width="1.5"/>
<circle cx="466.4" cy="147.3" r="14.5" fill="#8a84bc" fill-opacity="0.024" stroke="#fff" stroke-opacity="0.2" stroke-width="1.5"/>
<circle cx="555.0" cy="287.4" r="14.5" fill="#8a84bc" fill-opacity="0.024" stroke="#fff" stroke-opacity="0.2" stroke-width="1.5"/>
<circle cx="187.3" cy="272.9" r="14.5" fill="#8a84bc" fill-opacity="0.024" stroke="#fff" stroke-opacity="0.2" stroke-width="1.5"/>
<circle cx="391.6" cy="364.9" r="14.5" fill="#8a84bc" fill-opacity="0.024" stroke="#fff" stroke-opacity="0.2" stroke-width="1.5"/>
<circle cx="395.1" cy="353.8" r="14.5" fill="#8a84bc" fill-opacity="0.024" stroke="#fff" stroke-opacity="0.2" stroke-width="1.5"/>
<circle cx="604.0" cy="539.4" r="14.5" fill="#c98ea2" fill-opacity="0.024" stroke="#fff" stroke-opacity="0.2" stroke-width="1.5"/>
<circle cx="587.8" cy="432.3" r="14.5" fill="#8a84bc" fill-opacity="0.024" stroke="#fff" stroke-opacity="0.2" stroke-width="1.5"/>
<circle cx="485.4" cy="153.3" r="14.5" fill="#8a84bc" fill-opacity="0.024" stroke="#fff" stroke-opacity="0.2" stroke-width="1.5"/>
<circle cx="245.7" cy="479.7" r="14.5" fill="#e8b48a" fill-opacity="0.024" stroke="#fff" stroke-opacity="0.2" stroke-width="1.5"/>
<circle cx="511.0" cy="316.7" r="14.5" fill="#8a84bc" fill-opacity="0.024" stroke="#fff" stroke-opacity="0.2" stroke-width="1.5"/>
<circle cx="348.0" cy="438.6" r="14.5" fill="#e8b48a" fill-opacity="0.024" stroke="#fff" stroke-opacity="0.2" stroke-width="1.5"/>
<circle cx="514.8" cy="190.9" r="14.5" fill="#b0d2a0" fill-opacity="0.024" stroke="#fff" stroke-opacity="0.2" stroke-width="1.5"/>
<circle cx="501.6" cy="270.9" r="14.5" fill="#8a84bc" fill-opacity="0.024" stroke="#fff" stroke-opacity="0.2" stroke-width="1.5"/>
<circle cx="484.5" cy="271.0" r="14.5" fill="#8a84bc" fill-opacity="0.024" stroke="#fff" stroke-opacity="0.2" stroke-width="1.5"/>
<circle cx="409.9" cy="449.3" r="14.5" fill="#8a84bc" fill-opacity="0.024" stroke="#fff" stroke-opacity="0.2" stroke-width="1.5"/>
<circle cx="347.9" cy="372.3" r="14.5" fill="#c98ea2" fill-opacity="0.024" stroke="#fff" stroke-opacity="0.2" stroke-width="1.5"/>
<circle cx="601.0" cy="457.6" r="14.5" fill="#c98ea2" fill-opacity="0.024" stroke="#fff" stroke-opacity="0.2" stroke-width="1.5"/>
<circle cx="292.9" cy="322.9" r="14.5" fill="#e8b48a" fill-opacity="0.024" stroke="#fff" stroke-opacity="0.2" stroke-width="1.5"/>
<circle cx="657.5" cy="301.9" r="14.5" fill="#e8b48a" fill-opacity="0.024" stroke="#fff" stroke-opacity="0.2" stroke-width="1.5"/>
<circle cx="395.7" cy="289.5" r="14.5" fill="#8a84bc" fill-opacity="0.024" stroke="#fff" stroke-opacity="0.2" stroke-width="1.5"/>
<circle cx="271.7" cy="155.6" r="14.5" fill="#8a84bc" fill-opacity="0.024" stroke="#fff" stroke-opacity="0.2" stroke-width="1.5"/>
<circle cx="317.3" cy="266.5" r="14.5" fill="#8a84bc" fill-opacity="0.024" stroke="#fff" stroke-opacity="0.2" stroke-width="1.5"/>
<circle cx="616.2" cy="413.6" r="14.5" fill="#c98ea2" fill-opacity="0.024" stroke="#fff" stroke-opacity="0.2" stroke-width="1.5"/>
<circle cx="163.0" cy="316.3" r="14.5" fill="#8a84bc" fill-opacity="0.024" stroke="#fff" stroke-opacity="0.2" stroke-width="1.5"/>
<circle cx="400.6" cy="156.3" r="14.5" fill="#8a84bc" fill-opacity="0.024" stroke="#fff" stroke-opacity="0.2" stroke-width="1.5"/>
<circle cx="401.0" cy="394.5" r="14.5" fill="#8a84bc" fill-opacity="0.024" stroke="#fff" stroke-opacity="0.2" stroke-width="1.5"/>
<circle cx="382.0" cy="303.1" r="14.5" fill="#8a84bc" fill-opacity="0.024" stroke="#fff" stroke-opacity="0.2" stroke-width="1.5"/>
<circle cx="204.5" cy="479.0" r="14.5" fill="#8a84bc" fill-opacity="0.024" stroke="#fff" stroke-opacity="0.2" stroke-width="1.5"/>
<circle cx="396.1" cy="513.0" r="14.5" fill="#e8b48a" fill-opacity="0.024" stroke="#fff" stroke-opacity="0.2" stroke-width="1.5"/>
<circle cx="437.7" cy="484.7" r="14.5" fill="#8a84bc" fill-opacity="0.024" stroke="#fff" stroke-opacity="0.2" stroke-width="1.5"/>
<circle cx="311.0" cy="406.0" r="14.5" fill="#b0d2a0" fill-opacity="0.024" stroke="#fff" stroke-opacity="0.2" stroke-width="1.5"/>
<circle cx="536.7" cy="217.4" r="14.5" fill="#8a84bc" fill-opacity="0.024" stroke="#fff" stroke-opacity="0.2" stroke-width="1.5"/>
<circle cx="359.6" cy="293.0" r="14.5" fill="#b0d2a0" fill-opacity="0.024" stroke="#fff" stroke-opacity="0.2" stroke-width="1.5"/>
<circle cx="461.7" cy="295.1" r="14.5" fill="#8a84bc" fill-opacity="0.024" stroke="#fff" stroke-opacity="0.2" stroke-width="1.5"/>
<circle cx="524.4" cy="482.7" r="14.5" fill="#e8b48a" fill-opacity="0.024" stroke="#fff" stroke-opacity="0.2" stroke-width="1.5"/>
<circle cx="491.0" cy="224.5" r="14.5" fill="#8a84bc" fill-opacity="0.024" stroke="#fff" stroke-opacity="0.2" stroke-width="1.5"/>
<circle cx="377.4" cy="508.2" r="14.5" fill="#c98ea2" fill-opacity="0.024" stroke="#fff" stroke-opacity="0.2" stroke-width="1.5"/>
<circle cx="397.4" cy="372.7" r="14.5" fill="#8a84bc" fill-opacity="0.024" stroke="#fff" stroke-opacity="0.2" stroke-width="1.5"/>
<circle cx="472.4" cy="315.9" r="14.5" fill="#c98ea2" fill-opacity="0.024" stroke="#fff" stroke-opacity="0.2" stroke-width="1.5"/>
<circle cx="546.4" cy="391.1" r="14.5" fill="#e8b48a" fill-opacity="0.024" stroke="#fff" stroke-opacity="0.2" stroke-width="1.5"/>
<circle cx="512.1" cy="447.5" r="14.5" fill="#8a84bc" fill-opacity="0.024" stroke="#fff" stroke-opacity="0.2" stroke-width="1.5"/>
<circle cx="518.0" cy="515.6" r="14.5" fill="#c98ea2" fill-opacity="0.024" stroke="#fff" stroke-opacity="0.2" stroke-width="1.5"/>
<circle cx="421.1" cy="361.7" r="14.5" fill="#8a84bc" fill-opacity="0.024" stroke="#fff" stroke-opacity="0.2" stroke-width="1.5"/>
<circle cx="663.5" cy="354.9" r="14.5" fill="#c98ea2" fill-opacity="0.024" stroke="#fff" stroke-opacity="0.2" stroke-width="1.5"/>
<circle cx="358.1" cy="88.8" r="14.5" fill="#8a84bc" fill-opacity="0.024" stroke="#fff" stroke-opacity="0.2" stroke-width="1.5"/>
<circle cx="467.4" cy="365.2" r="14.5" fill="#8a84bc" fill-opacity="0.024" stroke="#fff" stroke-opacity="0.2" stroke-width="1.5"/>
<circle cx="385.4" cy="301.0" r="14.5" fill="#8a84bc" fill-opacity="0.024" stroke="#fff" stroke-opacity="0.2" stroke-width="1.5"/>
<circle cx="317.7" cy="140.5" r="14.5" fill="#c98ea2" fill-opacity="0.024" stroke="#fff" stroke-opacity="0.2" stroke-width="1.5"/>
<circle cx="429.1" cy="476.5" r="14.5" fill="#c98ea2" fill-opacity="0.024" stroke="#fff" stroke-opacity="0.2" stroke-width="1.5"/>
<circle cx="246.8" cy="257.1" r="14.5" fill="#b0d2a0" fill-opacity="0.024" stroke="#fff" stroke-opacity="0.2" stroke-width="1.5"/>
<circle cx="547.6" cy="465.2" r="14.5" fill="#e8b48a" fill-opacity="0.024" stroke="#fff" stroke-opacity="0.2" stroke-width="1.5"/>
<circle cx="270.1" cy="475.7" r="14.5" fill="#8a84bc" fill-opacity="0.024" stroke="#fff" stroke-opacity="0.2" stroke-width="1.5"/>
<circle cx="284.0" cy="382.4" r="14.5" fill="#8a84bc" fill-opacity="0.024" stroke="#fff" stroke-opacity="0.2" stroke-width="1.5"/>
<circle cx="268.2" cy="244.0" r="14.5" fill="#8a84bc" fill-opacity="0.024" stroke="#fff" stroke-opacity="0.2" stroke-width="1.5"/>
<circle cx="338.6" cy="333.0" r="14.5" fill="#e8b48a" fill-opacity="0.024" stroke="#fff" stroke-opacity="0.2" stroke-width="1.5"/>
<circle cx="365.2" cy="249.5" r="14.5" fill="#8a84bc" fill-opacity="0.024" stroke="#fff" stroke-opacity="0.2" stroke-width="1.5"/>
<circle cx="428.6" cy="188.4" r="14.5" fill="#c98ea2" fill-opacity="0.024" stroke="#fff" stroke-opacity="0.2" stroke-width="1.5"/>
<circle cx="415.7" cy="195.6" r="14.5" fill="#c98ea2" fill-opacity="0.024" stroke="#fff" stroke-opacity="0.2" stroke-width="1.5"/>
<circle cx="506.6" cy="346.3" r="14.5" fill="#b0d2a0" fill-opacity="0.024" stroke="#fff" stroke-opacity="0.2" stroke-width="1.5"/>
<circle cx="355.5" cy="534.7" r="14.5" fill="#c98ea2" fill-opacity="0.024" stroke="#fff" stroke-opacity="0.2" stroke-width="1.5"/>
<circle cx="173.3" cy="205.3" r="14.5" fill="#8a84bc" fill-opacity="0.024" stroke="#fff" stroke-opacity="0.2" stroke-width="1.5"/>
<circle cx="563.8" cy="301.8" r="14.5" fill="#8a84bc" fill-opacity="0.024" stroke="#fff" stroke-opacity="0.2" stroke-width="1.5"/>
<circle cx="539.9" cy="474.0" r="14.5" fill="#c98ea2" fill-opacity="0.024" stroke="#fff" stroke-opacity="0.2" stroke-width="1.5"/>
<circle cx="288.7" cy="473.8" r="14.5" fill="#8a84bc" fill-opacity="0.024" stroke="#fff" stroke-opacity="0.2" stroke-width="1.5"/>
<circle cx="293.4" cy="221.6" r="14.5" fill="#8a84bc" fill-opacity="0.024" stroke="#fff" stroke-opacity="0.2" stroke-width="1.5"/>
<circle cx="541.0" cy="422.3" r="14.5" fill="#c98ea2" fill-opacity="0.024" stroke="#fff" stroke-opacity="0.2" stroke-width="1.5"/>
<circle cx="549.3" cy="249.6" r="14.5" fill="#b0d2a0" fill-opacity="0.024" stroke="#fff" stroke-opacity="0.2" stroke-width="1.5"/>
<circle cx="703.2" cy="483.2" r="14.5" fill="#c98ea2" fill-opacity="0.024" stroke="#fff" stroke-opacity="0.2" stroke-width="1.5"/>
<circle cx="462.1" cy="328.6" r="14.5" fill="#8a84bc" fill-opacity="0.024" stroke="#fff" stroke-opacity="0.2" stroke-width="1.5"/>
<circle cx="513.2" cy="371.8" r="14.5" fill="#8a84bc" fill-opacity="0.024" stroke="#fff" stroke-opacity="0.2" stroke-width="1.5"/>
<circle cx="419.3" cy="352.8" r="14.5" fill="#8a84bc" fill-opacity="0.024" stroke="#fff" stroke-opacity="0.2" stroke-width="1.5"/>
<circle cx="580.4" cy="370.7" r="14.5" fill="#8a84bc" fill-opacity="0.024" stroke="#fff" stroke-opacity="0.2" stroke-width="1.5"/>
<circle cx="606.1" cy="470.6" r="14.5" fill="#c98ea2" fill-opacity="0.024" stroke="#fff" stroke-opacity="0.2" stroke-width="1.5"/>
<circle cx="271.9" cy="232.3" r="14.5" fill="#8a84bc" fill-opacity="0.024" stroke="#fff" stroke-opacity="0.2" stroke-width="1.5"/>
<circle cx="319.5" cy="311.8" r="14.5" fill="#8a84bc" fill-opacity="0.024" stroke="#fff" stroke-opacity="0.2" stroke-width="1.5"/>
<circle cx="400.1" cy="190.3" r="14.5" fill="#8a84bc" fill-opacity="0.024" stroke="#fff" stroke-opacity="0.2" stroke-width="1.5"/>
<circle cx="612.9" cy="413.9" r="14.5" fill="#8a84bc" fill-opacity="0.024" stroke="#fff" stroke-opacity="0.2" stroke-width="1.5"/>
<circle cx="246.0" cy="308.7" r="14.5" fill="#8a84bc" fill-opacity="0.024" stroke="#fff" stroke-opacity="0.2" stroke-width="1.5"/>
<circle cx="557.6" cy="322.4" r="14.5" fill="#8a84bc" fill-opacity="0.024" stroke="#fff" stroke-opacity="0.2" stroke-width="1.5"/>
<circle cx="499.1" cy="477.2" r="14.5" fill="#e8b48a" fill-opacity="0.024" stroke="#fff" stroke-opacity="0.2" stroke-width="1.5"/>
<circle cx="441.3" cy="479.1" r="14.5" fill="#c98ea2" fill-opacity="0.024" stroke="#fff" stroke-opacity="0.2" stroke-width="1.5"/>
<circle cx="295.2" cy="350.2" r="14.5" fill="#b0d2a0" fill-opacity="0.024" stroke="#fff" stroke-opacity="0.2" stroke-width="1.5"/>
<circle cx="371.4" cy="521.0" r="14.5" fill="#e8b48a" fill-opacity="0.024" stroke="#fff" stroke-opacity="0.2" stroke-width="1.5"/>
<circle cx="443.9" cy="318.2" r="14.5" fill="#8a84bc" fill-opacity="0.024" stroke="#fff" stroke-opacity="0.2" stroke-width="1.5"/>
<circle cx="444.9" cy="428.6" r="14.5" fill="#8a84bc" fill-opacity="0.024" stroke="#fff" stroke-opacity="0.2" stroke-width="1.5"/>
<circle cx="691.8" cy="461.0" r="14.5" fill="#c98ea2" fill-opacity="0.024" stroke="#fff" stroke-opacity="0.2" stroke-width="1.5"/>
<circle cx="363.9" cy="344.5" r="14.5" fill="#c98ea2" fill-opacity="0.024" stroke="#fff" stroke-opacity="0.2" stroke-width="1.5"/>
<circle cx="330.7" cy="299.6" r="14.5" fill="#8a84bc" fill-opacity="0.024" stroke="#fff" stroke-opacity="0.2" stroke-width="1.5"/>
<circle cx="572.5" cy="406.0" r="14.5" fill="#c98ea2" fill-opacity="0.024" stroke="#fff" stroke-opacity="0.2" stroke-width="1.5"/>
<circle cx="567.1" cy="271.8" r="14.5" fill="#8a84bc" fill-opacity="0.024" stroke="#fff" stroke-opacity="0.2" stroke-width="1.5"/>
<circle cx="438.6" cy="241.2" r="14.5" fill="#8a84bc" fill-opacity="0.024" stroke="#fff" stroke-opacity="0.2" stroke-width="1.5"/>
<circle cx="322.5" cy="232.4" r="14.5" fill="#8a84bc" fill-opacity="0.024" stroke="#fff" stroke-opacity="0.2" stroke-width="1.5"/>
<circle cx="522.6" cy="310.7" r="14.5" fill="#8a84bc" fill-opacity="0.024" stroke="#fff" stroke-opacity="0.2" stroke-width="1.5"/>
<circle cx="263.8" cy="202.1" r="14.5" fill="#8a84bc" fill-opacity="0.024" stroke="#fff" stroke-opacity="0.2" stroke-width="1.5"/>
<circle cx="507.3" cy="400.2" r="14.5" fill="#e8b48a" fill-opacity="0.024" stroke="#fff" stroke-opacity="0.2" stroke-width="1.5"/>
<circle cx="550.7" cy="177.4" r="14.5" fill="#8a84bc" fill-opacity="0.024" stroke="#fff" stroke-opacity="0.2" stroke-width="1.5"/>
<circle cx="483.3" cy="344.3" r="14.5" fill="#8a84bc" fill-opacity="0.024" stroke="#fff" stroke-opacity="0.2" stroke-width="1.5"/>
<circle cx="416.6" cy="284.1" r="14.5" fill="#c98ea2" fill-opacity="0.024" stroke="#fff" stroke-opacity="0.2" stroke-width="1.5"/>
<circle cx="458.5" cy="285.7" r="14.5" fill="#8a84bc" fill-opacity="0.024" stroke="#fff" stroke-opacity="0.2" stroke-width="1.5"/>
<circle cx="236.1" cy="479.1" r="14.5" fill="#8a84bc" fill-opacity="0.024" stroke="#fff" stroke-opacity="0.2" stroke-width="1.5"/>
<circle cx="362.2" cy="331.0" r="14.5" fill="#e8b48a" fill-opacity="0.024" stroke="#fff" stroke-opacity="0.2" stroke-width="1.5"/>
<circle cx="515.5" cy="536.2" r="14.5" fill="#8a84bc" fill-opacity="0.024" stroke="#fff" stroke-opacity="0.2" stroke-width="1.5"/>
<circle cx="378.0" cy="339.1" r="14.5" fill="#8a84bc" fill-opacity="0.024" stroke="#fff" stroke-opacity="0.2" stroke-width="1.5"/>
<circle cx="400.8" cy="348.4" r="14.5" fill="#8a84bc" fill-opacity="0.024" stroke="#fff" stroke-opacity="0.2" stroke-width="1.5"/>
<circle cx="678.9" cy="490.5" r="14.5" fill="#e8b48a" fill-opacity="0.024" stroke="#fff" stroke-opacity="0.2" stroke-width="1.5"/>
<circle cx="420.7" cy="186.2" r="14.5" fill="#8a84bc" fill-opacity="0.024" stroke="#fff" stroke-opacity="0.2" stroke-width="1.5"/>
<circle cx="321.3" cy="162.7" r="14.5" fill="#8a84bc" fill-opacity="0.024" stroke="#fff" stroke-opacity="0.2" stroke-width="1.5"/>
<circle cx="424.2" cy="408.6" r="14.5" fill="#8a84bc" fill-opacity="0.024" stroke="#fff" stroke-opacity="0.2" stroke-width="1.5"/>
<circle cx="431.2" cy="532.7" r="14.5" fill="#8a84bc" fill-opacity="0.024" stroke="#fff" stroke-opacity="0.2" stroke-width="1.5"/>
<circle cx="578.4" cy="485.8" r="14.5" fill="#c98ea2" fill-opacity="0.024" stroke="#fff" stroke-opacity="0.2" stroke-width="1.5"/>
<circle cx="656.9" cy="465.7" r="14.5" fill="#c98ea2" fill-opacity="0.024" stroke="#fff" stroke-opacity="0.2" stroke-width="1.5"/>
<circle cx="335.0" cy="549.8" r="14.5" fill="#8a84bc" fill-opacity="0.024" stroke="#fff" stroke-opacity="0.2" stroke-width="1.5"/>
<circle cx="513.6" cy="340.3" r="14.5" fill="#e8b48a" fill-opacity="0.024" stroke="#fff" stroke-opacity="0.2" stroke-width="1.5"/>
<circle cx="408.0" cy="386.8" r="14.5" fill="#e8b48a" fill-opacity="0.024" stroke="#fff" stroke-opacity="0.2" stroke-width="1.5"/>
<circle cx="418.4" cy="165.4" r="14.5" fill="#8a84bc" fill-opacity="0.024" stroke="#fff" stroke-opacity="0.2" stroke-width="1.5"/>
<circle cx="484.2" cy="333.9" r="14.5" fill="#c98ea2" fill-opacity="0.024" stroke="#fff" stroke-opacity="0.2" stroke-width="1.5"/>
<circle cx="320.1" cy="357.5" r="14.5" fill="#8a84bc" fill-opacity="0.024" stroke="#fff" stroke-opacity="0.2" stroke-width="1.5"/>
<circle cx="286.4" cy="108.3" r="14.5" fill="#8a84bc" fill-opacity="0.024" stroke="#fff" stroke-opacity="0.2" stroke-width="1.5"/>
<circle cx="398.0" cy="309.0" r="14.5" fill="#8a84bc" fill-opacity="0.024" stroke="#fff" stroke-opacity="0.2" stroke-width="1.5"/>
<circle cx="497.6" cy="408.2" r="14.5" fill="#8a84bc" fill-opacity="0.024" stroke="#fff" stroke-opacity="0.2" stroke-width="1.5"/>
<circle cx="555.0" cy="338.1" r="14.5" fill="#8a84bc" fill-opacity="0.024" stroke="#fff" stroke-opacity="0.2" stroke-width="1.5"/>
<circle cx="453.3" cy="365.0" r="14.5" fill="#8a84bc" fill-opacity="0.024" stroke="#fff" stroke-opacity="0.2" stroke-width="1.5"/>
<circle cx="515.6" cy="274.5" r="14.5" fill="#e8b48a" fill-opacity="0.024" stroke="#fff" stroke-opacity="0.2" stroke-width="1.5"/>
<circle cx="426.0" cy="442.9" r="14.5" fill="#c98ea2" fill-opacity="0.024" stroke="#fff" stroke-opacity="0.2" stroke-width="1.5"/>
<circle cx="268.1" cy="362.2" r="14.5" fill="#8a84bc" fill-opacity="0.024" stroke="#fff" stroke-opacity="0.2" stroke-width="1.5"/>
<circle cx="474.2" cy="542.4" r="14.5" fill="#e8b48a" fill-opacity="0.024" stroke="#fff" stroke-opacity="0.2" stroke-width="1.5"/>
<circle cx="306.1" cy="335.9" r="14.5" fill="#8a84bc" fill-opacity="0.024" stroke="#fff" stroke-opacity="0.2" stroke-width="1.5"/>
<circle cx="497.1" cy="597.7" r="14.5" fill="#c98ea2" fill-opacity="0.024" stroke="#fff" stroke-opacity="0.2" stroke-width="1.5"/>
<circle cx="555.4" cy="344.5" r="14.5" fill="#8a84bc" fill-opacity="0.024" stroke="#fff" stroke-opacity="0.2" stroke-width="1.5"/>
<circle cx="556.0" cy="243.3" r="14.5" fill="#e8b48a" fill-opacity="0.024" stroke="#fff" stroke-opacity="0.2" stroke-width="1.5"/>
<circle cx="532.5" cy="438.2" r="14.5" fill="#e8b48a" fill-opacity="0.024" stroke="#fff" stroke-opacity="0.2" stroke-width="1.5"/>
<circle cx="548.5" cy="513.1" r="14.5" fill="#c98ea2" fill-opacity="0.024" stroke="#fff" stroke-opacity="0.2" stroke-width="1.5"/>
<circle cx="647.8" cy="279.6" r="14.5" fill="#c98ea2" fill-opacity="0.024" stroke="#fff" stroke-opacity="0.2" stroke-width="1.5"/>
<circle cx="208.5" cy="297.7" r="14.5" fill="#8a84bc" fill-opacity="0.024" stroke="#fff" stroke-opacity="0.2" stroke-width="1.5"/>
<circle cx="440.3" cy="444.4" r="14.5" fill="#8a84bc" fill-opacity="0.024" stroke="#fff" stroke-opacity="0.2" stroke-width="1.5"/>
<circle cx="224.7" cy="240.0" r="14.5" fill="#8a84bc" fill-opacity="0.024" stroke="#fff" stroke-opacity="0.2" stroke-width="1.5"/>
<circle cx="337.6" cy="222.0" r="14.5" fill="#8a84bc" fill-opacity="0.024" stroke="#fff" stroke-opacity="0.2" stroke-width="1.5"/>
<circle cx="216.9" cy="396.9" r="14.5" fill="#8a84bc" fill-opacity="0.024" stroke="#fff" stroke-opacity="0.2" stroke-width="1.5"/>
<circle cx="311.9" cy="311.4" r="14.5" fill="#8a84bc" fill-opacity="0.024" stroke="#fff" stroke-opacity="0.2" stroke-width="1.5"/>
<circle cx="144.9" cy="465.5" r="14.5" fill="#b0d2a0" fill-opacity="0.024" stroke="#fff" stroke-opacity="0.2" stroke-width="1.5"/>
<circle cx="475.0" cy="578.4" r="14.5" fill="#e8b48a" fill-opacity="0.024" stroke="#fff" stroke-opacity="0.2" stroke-width="1.5"/>
<circle cx="478.7" cy="368.0" r="14.5" fill="#b0d2a0" fill-opacity="0.024" stroke="#fff" stroke-opacity="0.2" stroke-width="1.5"/>
<circle cx="378.3" cy="406.0" r="14.5" fill="#8a84bc" fill-opacity="0.024" stroke="#fff" stroke-opacity="0.2" stroke-width="1.5"/>
<circle cx="163.4" cy="217.1" r="14.5" fill="#8a84bc" fill-opacity="0.024" stroke="#fff" stroke-opacity="0.2" stroke-width="1.5"/>
<circle cx="540.4" cy="319.0" r="14.5" fill="#e8b48a" fill-opacity="0.024" stroke="#fff" stroke-opacity="0.2" stroke-width="1.5"/>
<circle cx="411.3" cy="582.5" r="14.5" fill="#8a84bc" fill-opacity="0.024" stroke="#fff" stroke-opacity="0.2" stroke-width="1.5"/>
<circle cx="393.8" cy="240.2" r="14.5" fill="#8a84bc" fill-opacity="0.024" stroke="#fff" stroke-opacity="0.2" stroke-width="1.5"/>
<circle cx="463.6" cy="196.8" r="14.5" fill="#8a84bc" fill-opacity="0.024" stroke="#fff" stroke-opacity="0.2" stroke-width="1.5"/>
<circle cx="359.1" cy="548.9" r="14.5" fill="#c98ea2" fill-opacity="0.024" stroke="#fff" stroke-opacity="0.2" stroke-width="1.5"/>
<circle cx="194.4" cy="399.7" r="14.5" fill="#8a84bc" fill-opacity="0.024" stroke="#fff" stroke-opacity="0.2" stroke-width="1.5"/>
<circle cx="462.4" cy="420.7" r="14.5" fill="#e8b48a" fill-opacity="0.024" stroke="#fff" stroke-opacity="0.2" stroke-width="1.5"/>
<circle cx="398.4" cy="407.0" r="14.5" fill="#8a84bc" fill-opacity="0.024" stroke="#fff" stroke-opacity="0.2" stroke-width="1.5"/>
<circle cx="256.9" cy="227.0" r="14.5" fill="#8a84bc" fill-opacity="0.024" stroke="#fff" stroke-opacity="0.2" stroke-width="1.5"/>
<circle cx="422.5" cy="247.4" r="14.5" fill="#c98ea2" fill-opacity="0.024" stroke="#fff" stroke-opacity="0.2" stroke-width="1.5"/>
<circle cx="590.3" cy="311.4" r="14.5" fill="#c98ea2" fill-opacity="0.024" stroke="#fff" stroke-opacity="0.2" stroke-width="1.5"/>
<circle cx="511.2" cy="525.0" r="14.5" fill="#b0d2a0" fill-opacity="0.024" stroke="#fff" stroke-opacity="0.2" stroke-width="1.5"/>
<circle cx="425.6" cy="336.7" r="14.5" fill="#8a84bc" fill-opacity="0.024" stroke="#fff" stroke-opacity="0.2" stroke-width="1.5"/>
<circle cx="154.7" cy="422.2" r="14.5" fill="#8a84bc" fill-opacity="0.024" stroke="#fff" stroke-opacity="0.2" stroke-width="1.5"/>
<circle cx="342.0" cy="423.9" r="14.5" fill="#b0d2a0" fill-opacity="0.024" stroke="#fff" stroke-opacity="0.2" stroke-width="1.5"/>
<circle cx="360.6" cy="195.4" r="14.5" fill="#c98ea2" fill-opacity="0.024" stroke="#fff" stroke-opacity="0.2" stroke-width="1.5"/>
<circle cx="456.8" cy="254.4" r="14.5" fill="#8a84bc" fill-opacity="0.024" stroke="#fff" stroke-opacity="0.2" stroke-width="1.5"/>
<circle cx="463.3" cy="362.4" r="14.5" fill="#8a84bc" fill-opacity="0.024" stroke="#fff" stroke-opacity="0.2" stroke-width="1.5"/>
<circle cx="362.9" cy="422.2" r="14.5" fill="#8a84bc" fill-opacity="0.024" stroke="#fff" stroke-opacity="0.2" stroke-width="1.5"/>
<circle cx="606.0" cy="521.1" r="14.5" fill="#c98ea2" fill-opacity="0.024" stroke="#fff" stroke-opacity="0.2" stroke-width="1.5"/>
<circle cx="311.4" cy="363.8" r="14.5" fill="#e8b48a" fill-opacity="0.024" stroke="#fff" stroke-opacity="0.2" stroke-width="1.5"/>
<circle cx="537.4" cy="516.0" r="14.5" fill="#e8b48a" fill-opacity="0.024" stroke="#fff" stroke-opacity="0.2" stroke-width="1.5"/>
<circle cx="490.9" cy="453.5" r="14.5" fill="#e8b48a" fill-opacity="0.024" stroke="#fff" stroke-opacity="0.2" stroke-width="1.5"/>
<circle cx="517.6" cy="439.4" r="14.5" fill="#e8b48a" fill-opacity="0.024" stroke="#fff" stroke-opacity="0.2" stroke-width="1.5"/>
<circle cx="469.8" cy="483.8" r="14.5" fill="#e8b48a" fill-opacity="0.024" stroke="#fff" stroke-opacity="0.2" stroke-width="1.5"/>
<circle cx="485.0" cy="446.2" r="14.5" fill="#e8b48a" fill-opacity="0.024" stroke="#fff" stroke-opacity="0.2" stroke-width="1.5"/>
<circle cx="264.2" cy="447.4" r="14.5" fill="#8a84bc" fill-opacity="0.024" stroke="#fff" stroke-opacity="0.2" stroke-width="1.5"/>
<circle cx="509.2" cy="267.0" r="14.5" fill="#8a84bc" fill-opacity="0.024" stroke="#fff" stroke-opacity="0.2" stroke-width="1.5"/>
<circle cx="466.1" cy="367.6" r="14.5" fill="#8a84bc" fill-opacity="0.024" stroke="#fff" stroke-opacity="0.2" stroke-width="1.5"/>
<circle cx="364.9" cy="274.8" r="14.5" fill="#8a84bc" fill-opacity="0.024" stroke="#fff" stroke-opacity="0.2" stroke-width="1.5"/>
<circle cx="530.5" cy="323.0" r="14.5" fill="#e8b48a" fill-opacity="0.024" stroke="#fff" stroke-opacity="0.2" stroke-width="1.5"/>
<circle cx="302.1" cy="265.9" r="14.5" fill="#8a84bc" fill-opacity="0.024" stroke="#fff" stroke-opacity="0.2" stroke-width="1.5"/>
<circle cx="519.1" cy="161.1" r="14.5" fill="#c98ea2" fill-opacity="0.024" stroke="#fff" stroke-opacity="0.2" stroke-width="1.5"/>
<circle cx="370.6" cy="168.9" r="14.5" fill="#c98ea2" fill-opacity="0.024" stroke="#fff" stroke-opacity="0.2" stroke-width="1.5"/>
<circle cx="517.0" cy="311.6" r="14.5" fill="#8a84bc" fill-opacity="0.024" stroke="#fff" stroke-opacity="0.2" stroke-width="1.5"/>
<circle cx="608.3" cy="311.9" r="14.5" fill="#8a84bc" fill-opacity="0.024" stroke="#fff" stroke-opacity="0.2" stroke-width="1.5"/>
<circle cx="319.1" cy="395.2" r="14.5" fill="#8a84bc" fill-opacity="0.024" stroke="#fff" stroke-opacity="0.2" stroke-width="1.5"/>
<circle cx="390.4" cy="606.8" r="14.5" fill="#e8b48a" fill-opacity="0.024" stroke="#fff" stroke-opacity="0.2" stroke-width="1.5"/>
<circle cx="491.7" cy="390.5" r="14.5" fill="#8a84bc" fill-opacity="0.024" stroke="#fff" stroke-opacity="0.2" stroke-width="1.5"/>
<circle cx="495.0" cy="393.7" r="14.5" fill="#c98ea2" fill-opacity="0.024" stroke="#fff" stroke-opacity="0.2" stroke-width="1.5"/>
<circle cx="355.8" cy="420.6" r="14.5" fill="#8a84bc" fill-opacity="0.024" stroke="#fff" stroke-opacity="0.2" stroke-width="1.5"/>
<circle cx="452.7" cy="420.6" r="14.5" fill="#8a84bc" fill-opacity="0.024" stroke="#fff" stroke-opacity="0.2" stroke-width="1.5"/>
<circle cx="250.7" cy="168.8" r="14.5" fill="#8a84bc" fill-opacity="0.024" stroke="#fff" stroke-opacity="0.2" stroke-width="1.5"/>
<circle cx="377.0" cy="417.1" r="14.5" fill="#8a84bc" fill-opacity="0.024" stroke="#fff" stroke-opacity="0.2" stroke-width="1.5"/>
<circle cx="487.7" cy="347.2" r="14.5" fill="#8a84bc" fill-opacity="0.024" stroke="#fff" stroke-opacity="0.2" stroke-width="1.5"/>
<circle cx="299.0" cy="337.1" r="14.5" fill="#8a84bc" fill-opacity="0.024" stroke="#fff" stroke-opacity="0.2" stroke-width="1.5"/>
<circle cx="477.7" cy="468.9" r="14.5" fill="#e8b48a" fill-opacity="0.024" stroke="#fff" stroke-opacity="0.2" stroke-width="1.5"/>
<circle cx="499.8" cy="365.4" r="14.5" fill="#c98ea2" fill-opacity="0.024" stroke="#fff" stroke-opacity="0.2" stroke-width="1.5"/>
<circle cx="167.9" cy="369.0" r="14.5" fill="#c98ea2" fill-opacity="0.024" stroke="#fff" stroke-opacity="0.2" stroke-width="1.5"/>
<circle cx="505.3" cy="119.8" r="14.5" fill="#8a84bc" fill-opacity="0.024" stroke="#fff" stroke-opacity="0.2" stroke-width="1.5"/>
<circle cx="420.7" cy="452.4" r="14.5" fill="#c98ea2" fill-opacity="0.024" stroke="#fff" stroke-opacity="0.2" stroke-width="1.5"/>
<circle cx="466.5" cy="358.7" r="14.5" fill="#e8b48a" fill-opacity="0.024" stroke="#fff" stroke-opacity="0.2" stroke-width="1.5"/>
<circle cx="245.3" cy="307.6" r="14.5" fill="#8a84bc" fill-opacity="0.024" stroke="#fff" stroke-opacity="0.2" stroke-width="1.5"/>
<circle cx="381.4" cy="278.7" r="14.5" fill="#8a84bc" fill-opacity="0.024" stroke="#fff" stroke-opacity="0.2" stroke-width="1.5"/>
<circle cx="453.3" cy="153.6" r="14.5" fill="#8a84bc" fill-opacity="0.024" stroke="#fff" stroke-opacity="0.2" stroke-width="1.5"/>
<circle cx="456.3" cy="236.3" r="14.5" fill="#8a84bc" fill-opacity="0.024" stroke="#fff" stroke-opacity="0.2" stroke-width="1.5"/>
<circle cx="273.2" cy="347.0" r="14.5" fill="#8a84bc" fill-opacity="0.024" stroke="#fff" stroke-opacity="0.2" stroke-width="1.5"/>
<circle cx="357.1" cy="401.8" r="14.5" fill="#8a84bc" fill-opacity="0.024" stroke="#fff" stroke-opacity="0.2" stroke-width="1.5"/>
<circle cx="534.9" cy="346.2" r="14.5" fill="#8a84bc" fill-opacity="0.024" stroke="#fff" stroke-opacity="0.2" stroke-width="1.5"/>
<circle cx="495.5" cy="369.4" r="14.5" fill="#8a84bc" fill-opacity="0.024" stroke="#fff" stroke-opacity="0.2" stroke-width="1.5"/>
<circle cx="437.8" cy="268.4" r="14.5" fill="#c98ea2" fill-opacity="0.024" stroke="#fff" stroke-opacity="0.2" stroke-width="1.5"/>
<circle cx="524.1" cy="370.3" r="14.5" fill="#c98ea2" fill-opacity="0.024" stroke="#fff" stroke-opacity="0.2" stroke-width="1.5"/>
<circle cx="392.4" cy="277.2" r="14.5" fill="#8a84bc" fill-opacity="0.024" stroke="#fff" stroke-opacity="0.2" stroke-width="1.5"/>
<circle cx="217.8" cy="335.1" r="14.5" fill="#8a84bc" fill-opacity="0.024" stroke="#fff" stroke-opacity="0.2" stroke-width="1.5"/>
<circle cx="321.8" cy="310.0" r="14.5" fill="#8a84bc" fill-opacity="0.024" stroke="#fff" stroke-opacity="0.2" stroke-width="1.5"/>
<circle cx="282.8" cy="272.9" r="14.5" fill="#8a84bc" fill-opacity="0.024" stroke="#fff" stroke-opacity="0.2" stroke-width="1.5"/>
<circle cx="587.8" cy="198.1" r="14.5" fill="#e8b48a" fill-opacity="0.024" stroke="#fff" stroke-opacity="0.2" stroke-width="1.5"/>
<circle cx="690.5" cy="276.2" r="14.5" fill="#8a84bc" fill-opacity="0.024" stroke="#fff" stroke-opacity="0.2" stroke-width="1.5"/>
<circle cx="400.3" cy="294.6" r="14.5" fill="#c98ea2" fill-opacity="0.024" stroke="#fff" stroke-opacity="0.2" stroke-width="1.5"/>
<circle cx="404.8" cy="337.4" r="14.5" fill="#8a84bc" fill-opacity="0.024" stroke="#fff" stroke-opacity="0.2" stroke-width="1.5"/>
<circle cx="533.7" cy="487.1" r="14.5" fill="#c98ea2" fill-opacity="0.024" stroke="#fff" stroke-opacity="0.2" stroke-width="1.5"/>
<circle cx="473.0" cy="406.4" r="14.5" fill="#e8b48a" fill-opacity="0.024" stroke="#fff" stroke-opacity="0.2" stroke-width="1.5"/>
<circle cx="290.7" cy="352.2" r="14.5" fill="#e8b48a" fill-opacity="0.024" stroke="#fff" stroke-opacity="0.2" stroke-width="1.5"/>
<circle cx="388.5" cy="378.1" r="14.5" fill="#c98ea2" fill-opacity="0.024" stroke="#fff" stroke-opacity="0.2" stroke-width="1.5"/>
<circle cx="506.5" cy="349.1" r="14.5" fill="#8a84bc" fill-opacity="0.024" stroke="#fff" stroke-opacity="0.2" stroke-width="1.5"/>
<circle cx="469.5" cy="322.6" r="14.5" fill="#8a84bc" fill-opacity="0.024" stroke="#fff" stroke-opacity="0.2" stroke-width="1.5"/>
<circle cx="473.5" cy="270.4" r="14.5" fill="#c98ea2" fill-opacity="0.024" stroke="#fff" stroke-opacity="0.2" stroke-width="1.5"/>
<circle cx="442.3" cy="427.3" r="14.5" fill="#c98ea2" fill-opacity="0.024" stroke="#fff" stroke-opacity="0.2" stroke-width="1.5"/>
<circle cx="391.7" cy="410.1" r="14.5" fill="#8a84bc" fill-opacity="0.024" stroke="#fff" stroke-opacity="0.2" stroke-width="1.5"/>
<circle cx="484.1" cy="373.6" r="14.5" fill="#b0d2a0" fill-opacity="0.024" stroke="#fff" stroke-opacity="0.2" stroke-width="1.5"/>
<circle cx="476.9" cy="245.8" r="14.5" fill="#8a84bc" fill-opacity="0.024" stroke="#fff" stroke-opacity="0.2" stroke-width="1.5"/>
<circle cx="510.3" cy="542.4" r="14.5" fill="#c98ea2" fill-opacity="0.024" stroke="#fff" stroke-opacity="0.2" stroke-width="1.5"/>
<circle cx="463.2" cy="453.5" r="14.5" fill="#c98ea2" fill-opacity="0.024" stroke="#fff" stroke-opacity="0.2" stroke-width="1.5"/>
<circle cx="634.4" cy="510.2" r="14.5" fill="#e8b48a" fill-opacity="0.024" stroke="#fff" stroke-opacity="0.2" stroke-width="1.5"/>
<circle cx="417.4" cy="433.7" r="14.5" fill="#c98ea2" fill-opacity="0.024" stroke="#fff" stroke-opacity="0.2" stroke-width="1.5"/>
<circle cx="589.1" cy="326.8" r="14.5" fill="#c98ea2" fill-opacity="0.024" stroke="#fff" stroke-opacity="0.2" stroke-width="1.5"/>
<circle cx="415.0" cy="317.7" r="14.5" fill="#b0d2a0" fill-opacity="0.024" stroke="#fff" stroke-opacity="0.2" stroke-width="1.5"/>
<circle cx="543.6" cy="331.3" r="14.5" fill="#c98ea2" fill-opacity="0.024" stroke="#fff" stroke-opacity="0.2" stroke-width="1.5"/>
<circle cx="558.1" cy="420.8" r="14.5" fill="#e8b48a" fill-opacity="0.024" stroke="#fff" stroke-opacity="0.2" stroke-width="1.5"/>
<circle cx="369.6" cy="382.0" r="14.5" fill="#8a84bc" fill-opacity="0.024" stroke="#fff" stroke-opacity="0.2" stroke-width="1.5"/>
<circle cx="557.3" cy="380.5" r="14.5" fill="#c98ea2" fill-opacity="0.024" stroke="#fff" stroke-opacity="0.2" stroke-width="1.5"/>
<circle cx="286.8" cy="300.6" r="14.5" fill="#8a84bc" fill-opacity="0.024" stroke="#fff" stroke-opacity="0.2" stroke-width="1.5"/>
<circle cx="556.4" cy="463.5" r="14.5" fill="#b0d2a0" fill-opacity="0.024" stroke="#fff" stroke-opacity="0.2" stroke-width="1.5"/>
<circle cx="558.5" cy="364.8" r="14.5" fill="#c98ea2" fill-opacity="0.024" stroke="#fff" stroke-opacity="0.2" stroke-width="1.5"/>
<circle cx="501.8" cy="261.9" r="14.5" fill="#b0d2a0" fill-opacity="0.024" stroke="#fff" stroke-opacity="0.2" stroke-width="1.5"/>
<circle cx="612.7" cy="353.5" r="14.5" fill="#c98ea2" fill-opacity="0.024" stroke="#fff" stroke-opacity="0.2" stroke-width="1.5"/>
<circle cx="316.3" cy="369.1" r="14.5" fill="#c98ea2" fill-opacity="0.024" stroke="#fff" stroke-opacity="0.2" stroke-width="1.5"/>
<circle cx="618.7" cy="315.1" r="14.5" fill="#c98ea2" fill-opacity="0.024" stroke="#fff" stroke-opacity="0.2" stroke-width="1.5"/>
<circle cx="682.0" cy="445.8" r="14.5" fill="#c98ea2" fill-opacity="0.024" stroke="#fff" stroke-opacity="0.2" stroke-width="1.5"/>
<circle cx="506.7" cy="366.7" r="14.5" fill="#8a84bc" fill-opacity="0.024" stroke="#fff" stroke-opacity="0.2" stroke-width="1.5"/>
<circle cx="343.4" cy="177.2" r="14.5" fill="#8a84bc" fill-opacity="0.024" stroke="#fff" stroke-opacity="0.2" stroke-width="1.5"/>
<circle cx="357.0" cy="298.8" r="14.5" fill="#8a84bc" fill-opacity="0.024" stroke="#fff" stroke-opacity="0.2" stroke-width="1.5"/>
<circle cx="405.2" cy="312.5" r="14.5" fill="#c98ea2" fill-opacity="0.024" stroke="#fff" stroke-opacity="0.2" stroke-width="1.5"/>
<circle cx="153.5" cy="457.7" r="14.5" fill="#8a84bc" fill-opacity="0.024" stroke="#fff" stroke-opacity="0.2" stroke-width="1.5"/>
<circle cx="476.6" cy="508.4" r="14.5" fill="#e8b48a" fill-opacity="0.024" stroke="#fff" stroke-opacity="0.2" stroke-width="1.5"/>
<circle cx="464.2" cy="358.9" r="14.5" fill="#e8b48a" fill-opacity="0.024" stroke="#fff" stroke-opacity="0.2" stroke-width="1.5"/>
<circle cx="362.5" cy="479.1" r="14.5" fill="#e8b48a" fill-opacity="0.024" stroke="#fff" stroke-opacity="0.2" stroke-width="1.5"/>
<circle cx="582.5" cy="189.1" r="14.5" fill="#c98ea2" fill-opacity="0.024" stroke="#fff" stroke-opacity="0.2" stroke-width="1.5"/>
<circle cx="430.7" cy="544.5" r="14.5" fill="#8a84bc" fill-opacity="0.024" stroke="#fff" stroke-opacity="0.2" stroke-width="1.5"/>
<circle cx="283.7" cy="287.6" r="14.5" fill="#8a84bc" fill-opacity="0.024" stroke="#fff" stroke-opacity="0.2" stroke-width="1.5"/>
<circle cx="504.2" cy="364.2" r="14.5" fill="#c98ea2" fill-opacity="0.024" stroke="#fff" stroke-opacity="0.2" stroke-width="1.5"/>
<circle cx="453.3" cy="328.8" r="14.5" fill="#8a84bc" fill-opacity="0.024" stroke="#fff" stroke-opacity="0.2" stroke-width="1.5"/>
<circle cx="153.3" cy="243.5" r="14.5" fill="#8a84bc" fill-opacity="0.024" stroke="#fff" stroke-opacity="0.2" stroke-width="1.5"/>
<circle cx="168.9" cy="397.3" r="14.5" fill="#c98ea2" fill-opacity="0.024" stroke="#fff" stroke-opacity="0.2" stroke-width="1.5"/>
<circle cx="414.1" cy="408.7" r="14.5" fill="#c98ea2" fill-opacity="0.024" stroke="#fff" stroke-opacity="0.2" stroke-width="1.5"/>
<circle cx="512.0" cy="338.8" r="14.5" fill="#e8b48a" fill-opacity="0.024" stroke="#fff" stroke-opacity="0.2" stroke-width="1.5"/>
<circle cx="476.4" cy="365.2" r="14.5" fill="#c98ea2" fill-opacity="0.024" stroke="#fff" stroke-opacity="0.2" stroke-width="1.5"/>
<circle cx="168.3" cy="396.0" r="14.5" fill="#8a84bc" fill-opacity="0.024" stroke="#fff" stroke-opacity="0.2" stroke-width="1.5"/>
<circle cx="515.0" cy="459.1" r="14.5" fill="#c98ea2" fill-opacity="0.024" stroke="#fff" stroke-opacity="0.2" stroke-width="1.5"/>
<circle cx="369.2" cy="232.2" r="14.5" fill="#c98ea2" fill-opacity="0.024" stroke="#fff" stroke-opacity="0.2" stroke-width="1.5"/>
<circle cx="455.9" cy="452.9" r="14.5" fill="#e8b48a" fill-opacity="0.024" stroke="#fff" stroke-opacity="0.2" stroke-width="1.5"/>
<circle cx="355.2" cy="495.1" r="14.5" fill="#b0d2a0" fill-opacity="0.024" stroke="#fff" stroke-opacity="0.2" stroke-width="1.5"/>
<circle cx="585.5" cy="384.2" r="14.5" fill="#8a84bc" fill-opacity="0.024" stroke="#fff" stroke-opacity="0.2" stroke-width="1.5"/>
<circle cx="662.6" cy="467.2" r="14.5" fill="#e8b48a" fill-opacity="0.024" stroke="#fff" stroke-opacity="0.2" stroke-width="1.5"/>
<circle cx="486.3" cy="434.5" r="14.5" fill="#c98ea2" fill-opacity="0.024" stroke="#fff" stroke-opacity="0.2" stroke-width="1.5"/>
<circle cx="579.4" cy="320.9" r="14.5" fill="#8a84bc" fill-opacity="0.024" stroke="#fff" stroke-opacity="0.2" stroke-width="1.5"/>
<circle cx="376.8" cy="119.0" r="14.5" fill="#8a84bc" fill-opacity="0.024" stroke="#fff" stroke-opacity="0.2" stroke-width="1.5"/>
<circle cx="589.1" cy="260.9" r="14.5" fill="#e8b48a" fill-opacity="0.024" stroke="#fff" stroke-opacity="0.2" stroke-width="1.5"/>
<circle cx="223.9" cy="306.8" r="14.5" fill="#8a84bc" fill-opacity="0.024" stroke="#fff" stroke-opacity="0.2" stroke-width="1.5"/>
<circle cx="488.2" cy="426.6" r="14.5" fill="#c98ea2" fill-opacity="0.024" stroke="#fff" stroke-opacity="0.2" stroke-width="1.5"/>
<circle cx="436.4" cy="329.3" r="14.5" fill="#8a84bc" fill-opacity="0.024" stroke="#fff" stroke-opacity="0.2" stroke-width="1.5"/>
<circle cx="367.6" cy="430.9" r="14.5" fill="#c98ea2" fill-opacity="0.024" stroke="#fff" stroke-opacity="0.2" stroke-width="1.5"/>
<circle cx="388.4" cy="239.8" r="14.5" fill="#8a84bc" fill-opacity="0.024" stroke="#fff" stroke-opacity="0.2" stroke-width="1.5"/>
<circle cx="402.6" cy="537.1" r="14.5" fill="#8a84bc" fill-opacity="0.024" stroke="#fff" stroke-opacity="0.2" stroke-width="1.5"/>
<circle cx="324.2" cy="270.2" r="14.5" fill="#c98ea2" fill-opacity="0.024" stroke="#fff" stroke-opacity="0.2" stroke-width="1.5"/>
<circle cx="418.3" cy="294.2" r="14.5" fill="#8a84bc" fill-opacity="0.024" stroke="#fff" stroke-opacity="0.2" stroke-width="1.5"/>
<circle cx="616.9" cy="505.7" r="14.5" fill="#c98ea2" fill-opacity="0.024" stroke="#fff" stroke-opacity="0.2" stroke-width="1.5"/>
<circle cx="371.9" cy="489.0" r="14.5" fill="#c98ea2" fill-opacity="0.024" stroke="#fff" stroke-opacity="0.2" stroke-width="1.5"/>
<circle cx="455.8" cy="208.6" r="14.5" fill="#8a84bc" fill-opacity="0.024" stroke="#fff" stroke-opacity="0.2" stroke-width="1.5"/>
<circle cx="557.1" cy="308.2" r="14.5" fill="#e8b48a" fill-opacity="0.024" stroke="#fff" stroke-opacity="0.2" stroke-width="1.5"/>
<circle cx="436.4" cy="336.0" r="14.5" fill="#8a84bc" fill-opacity="0.024" stroke="#fff" stroke-opacity="0.2" stroke-width="1.5"/>
<circle cx="526.1" cy="187.3" r="14.5" fill="#8a84bc" fill-opacity="0.024" stroke="#fff" stroke-opacity="0.2" stroke-width="1.5"/>
<circle cx="398.7" cy="431.0" r="14.5" fill="#e8b48a" fill-opacity="0.024" stroke="#fff" stroke-opacity="0.2" stroke-width="1.5"/>
<circle cx="409.0" cy="388.7" r="14.5" fill="#8a84bc" fill-opacity="0.024" stroke="#fff" stroke-opacity="0.2" stroke-width="1.5"/>
<circle cx="553.4" cy="235.4" r="14.5" fill="#8a84bc" fill-opacity="0.024" stroke="#fff" stroke-opacity="0.2" stroke-width="1.5"/>
<circle cx="386.3" cy="326.5" r="14.5" fill="#8a84bc" fill-opacity="0.024" stroke="#fff" stroke-opacity="0.2" stroke-width="1.5"/>
<circle cx="558.3" cy="388.4" r="14.5" fill="#8a84bc" fill-opacity="0.024" stroke="#fff" stroke-opacity="0.2" stroke-width="1.5"/>
<circle cx="513.5" cy="261.8" r="14.5" fill="#c98ea2" fill-opacity="0.024" stroke="#fff" stroke-opacity="0.2" stroke-width="1.5"/>
<circle cx="404.6" cy="317.0" r="14.5" fill="#8a84bc" fill-opacity="0.024" stroke="#fff" stroke-opacity="0.2" stroke-width="1.5"/>
<circle cx="386.3" cy="438.2" r="14.5" fill="#c98ea2" fill-opacity="0.024" stroke="#fff" stroke-opacity="0.2" stroke-width="1.5"/>
<circle cx="506.9" cy="226.6" r="14.5" fill="#c98ea2" fill-opacity="0.024" stroke="#fff" stroke-opacity="0.2" stroke-width="1.5"/>
<circle cx="479.3" cy="446.4" r="14.5" fill="#e8b48a" fill-opacity="0.024" stroke="#fff" stroke-opacity="0.2" stroke-width="1.5"/>
<circle cx="455.7" cy="293.4" r="14.5" fill="#8a84bc" fill-opacity="0.024" stroke="#fff" stroke-opacity="0.2" stroke-width="1.5"/>
<circle cx="398.4" cy="277.0" r="14.5" fill="#8a84bc" fill-opacity="0.024" stroke="#fff" stroke-opacity="0.2" stroke-width="1.5"/>
<circle cx="669.0" cy="318.3" r="14.5" fill="#8a84bc" fill-opacity="0.024" stroke="#fff" stroke-opacity="0.2" stroke-width="1.5"/>
<circle cx="474.5" cy="405.4" r="14.5" fill="#8a84bc" fill-opacity="0.024" stroke="#fff" stroke-opacity="0.2" stroke-width="1.5"/>
<circle cx="440.6" cy="236.3" r="14.5" fill="#8a84bc" fill-opacity="0.024" stroke="#fff" stroke-opacity="0.2" stroke-width="1.5"/>
<circle cx="509.9" cy="324.7" r="14.5" fill="#c98ea2" fill-opacity="0.024" stroke="#fff" stroke-opacity="0.2" stroke-width="1.5"/>
<circle cx="522.2" cy="406.6" r="14.5" fill="#c98ea2" fill-opacity="0.024" stroke="#fff" stroke-opacity="0.2" stroke-width="1.5"/>
<circle cx="599.3" cy="388.7" r="14.5" fill="#c98ea2" fill-opacity="0.024" stroke="#fff" stroke-opacity="0.2" stroke-width="1.5"/>
<circle cx="386.5" cy="491.8" r="14.5" fill="#8a84bc" fill-opacity="0.024" stroke="#fff" stroke-opacity="0.2" stroke-width="1.5"/>
<circle cx="594.5" cy="494.7" r="14.5" fill="#8a84bc" fill-opacity="0.024" stroke="#fff" stroke-opacity="0.2" stroke-width="1.5"/>
<circle cx="467.9" cy="476.0" r="14.5" fill="#8a84bc" fill-opacity="0.024" stroke="#fff" stroke-opacity="0.2" stroke-width="1.5"/>
<circle cx="367.9" cy="375.5" r="14.5" fill="#8a84bc" fill-opacity="0.024" stroke="#fff" stroke-opacity="0.2" stroke-width="1.5"/>
<circle cx="388.0" cy="246.7" r="14.5" fill="#8a84bc" fill-opacity="0.024" stroke="#fff" stroke-opacity="0.2" stroke-width="1.5"/>
<circle cx="457.5" cy="374.2" r="14.5" fill="#8a84bc" fill-opacity="0.024" stroke="#fff" stroke-opacity="0.2" stroke-width="1.5"/>
<circle cx="483.6" cy="408.0" r="14.5" fill="#c98ea2" fill-opacity="0.024" stroke="#fff" stroke-opacity="0.2" stroke-width="1.5"/>
<circle cx="259.5" cy="335.6" r="14.5" fill="#8a84bc" fill-opacity="0.024" stroke="#fff" stroke-opacity="0.2" stroke-width="1.5"/>
<circle cx="393.0" cy="464.5" r="14.5" fill="#c98ea2" fill-opacity="0.024" stroke="#fff" stroke-opacity="0.2" stroke-width="1.5"/>
<circle cx="446.6" cy="317.3" r="14.5" fill="#c98ea2" fill-opacity="0.024" stroke="#fff" stroke-opacity="0.2" stroke-width="1.5"/>
<circle cx="499.2" cy="321.6" r="14.5" fill="#e8b48a" fill-opacity="0.024" stroke="#fff" stroke-opacity="0.2" stroke-width="1.5"/>
<circle cx="441.7" cy="403.6" r="14.5" fill="#8a84bc" fill-opacity="0.024" stroke="#fff" stroke-opacity="0.2" stroke-width="1.5"/>
<circle cx="431.4" cy="317.0" r="14.5" fill="#c98ea2" fill-opacity="0.024" stroke="#fff" stroke-opacity="0.2" stroke-width="1.5"/>
<circle cx="519.4" cy="186.1" r="14.5" fill="#b0d2a0" fill-opacity="0.024" stroke="#fff" stroke-opacity="0.2" stroke-width="1.5"/>
<circle cx="511.4" cy="162.3" r="14.5" fill="#b0d2a0" fill-opacity="0.024" stroke="#fff" stroke-opacity="0.2" stroke-width="1.5"/>
<circle cx="347.1" cy="381.0" r="14.5" fill="#8a84bc" fill-opacity="0.024" stroke="#fff" stroke-opacity="0.2" stroke-width="1.5"/>
<circle cx="522.5" cy="588.7" r="14.5" fill="#8a84bc" fill-opacity="0.024" stroke="#fff" stroke-opacity="0.2" stroke-width="1.5"/>
<circle cx="548.1" cy="489.0" r="14.5" fill="#8a84bc" fill-opacity="0.024" stroke="#fff" stroke-opacity="0.2" stroke-width="1.5"/>
<circle cx="512.6" cy="387.0" r="14.5" fill="#8a84bc" fill-opacity="0.024" stroke="#fff" stroke-opacity="0.2" stroke-width="1.5"/>
<circle cx="537.4" cy="525.3" r="14.5" fill="#c98ea2" fill-opacity="0.024" stroke="#fff" stroke-opacity="0.2" stroke-width="1.5"/>
<circle cx="431.1" cy="456.3" r="14.5" fill="#c98ea2" fill-opacity="0.024" stroke="#fff" stroke-opacity="0.2" stroke-width="1.5"/>
<circle cx="508.0" cy="435.4" r="14.5" fill="#e8b48a" fill-opacity="0.024" stroke="#fff" stroke-opacity="0.2" stroke-width="1.5"/>
<circle cx="200.3" cy="424.8" r="14.5" fill="#8a84bc" fill-opacity="0.024" stroke="#fff" stroke-opacity="0.2" stroke-width="1.5"/>
<circle cx="323.9" cy="472.6" r="14.5" fill="#c98ea2" fill-opacity="0.024" stroke="#fff" stroke-opacity="0.2" stroke-width="1.5"/>
<circle cx="359.6" cy="267.5" r="14.5" fill="#c98ea2" fill-opacity="0.024" stroke="#fff" stroke-opacity="0.2" stroke-width="1.5"/>
<circle cx="236.6" cy="288.8" r="14.5" fill="#8a84bc" fill-opacity="0.024" stroke="#fff" stroke-opacity="0.2" stroke-width="1.5"/>
<circle cx="253.0" cy="251.3" r="14.5" fill="#c98ea2" fill-opacity="0.024" stroke="#fff" stroke-opacity="0.2" stroke-width="1.5"/>
<circle cx="413.6" cy="434.0" r="14.5" fill="#e8b48a" fill-opacity="0.024" stroke="#fff" stroke-opacity="0.2" stroke-width="1.5"/>
<circle cx="410.9" cy="371.6" r="14.5" fill="#e8b48a" fill-opacity="0.024" stroke="#fff" stroke-opacity="0.2" stroke-width="1.5"/>
<circle cx="442.9" cy="535.3" r="14.5" fill="#c98ea2" fill-opacity="0.024" stroke="#fff" stroke-opacity="0.2" stroke-width="1.5"/>
<circle cx="313.2" cy="385.5" r="14.5" fill="#8a84bc" fill-opacity="0.024" stroke="#fff" stroke-opacity="0.2" stroke-width="1.5"/>
<circle cx="440.6" cy="378.2" r="14.5" fill="#8a84bc" fill-opacity="0.024" stroke="#fff" stroke-opacity="0.2" stroke-width="1.5"/>
<circle cx="483.7" cy="409.3" r="14.5" fill="#8a84bc" fill-opacity="0.024" stroke="#fff" stroke-opacity="0.2" stroke-width="1.5"/>
<circle cx="465.1" cy="242.6" r="14.5" fill="#8a84bc" fill-opacity="0.024" stroke="#fff" stroke-opacity="0.2" stroke-width="1.5"/>
<circle cx="226.1" cy="131.9" r="14.5" fill="#8a84bc" fill-opacity="0.024" stroke="#fff" stroke-opacity="0.2" stroke-width="1.5"/>
<circle cx="371.0" cy="161.2" r="14.5" fill="#8a84bc" fill-opacity="0.024" stroke="#fff" stroke-opacity="0.2" stroke-width="1.5"/>
<circle cx="442.6" cy="348.3" r="14.5" fill="#e8b48a" fill-opacity="0.024" stroke="#fff" stroke-opacity="0.2" stroke-width="1.5"/>
<circle cx="486.1" cy="452.0" r="14.5" fill="#e8b48a" fill-opacity="0.024" stroke="#fff" stroke-opacity="0.2" stroke-width="1.5"/>
<circle cx="444.9" cy="437.1" r="14.5" fill="#c98ea2" fill-opacity="0.024" stroke="#fff" stroke-opacity="0.2" stroke-width="1.5"/>
<circle cx="549.8" cy="471.7" r="14.5" fill="#e8b48a" fill-opacity="0.024" stroke="#fff" stroke-opacity="0.2" stroke-width="1.5"/>
<circle cx="314.2" cy="558.5" r="14.5" fill="#8a84bc" fill-opacity="0.024" stroke="#fff" stroke-opacity="0.2" stroke-width="1.5"/>
<circle cx="427.8" cy="377.1" r="14.5" fill="#8a84bc" fill-opacity="0.024" stroke="#fff" stroke-opacity="0.2" stroke-width="1.5"/>
<circle cx="491.8" cy="340.9" r="14.5" fill="#8a84bc" fill-opacity="0.024" stroke="#fff" stroke-opacity="0.2" stroke-width="1.5"/>
<circle cx="463.2" cy="448.0" r="14.5" fill="#c98ea2" fill-opacity="0.024" stroke="#fff" stroke-opacity="0.2" stroke-width="1.5"/>
<circle cx="239.5" cy="571.5" r="14.5" fill="#8a84bc" fill-opacity="0.024" stroke="#fff" stroke-opacity="0.2" stroke-width="1.5"/>
<circle cx="504.3" cy="104.7" r="14.5" fill="#c98ea2" fill-opacity="0.024" stroke="#fff" stroke-opacity="0.2" stroke-width="1.5"/>
<circle cx="419.8" cy="237.5" r="14.5" fill="#8a84bc" fill-opacity="0.024" stroke="#fff" stroke-opacity="0.2" stroke-width="1.5"/>
<circle cx="436.6" cy="396.7" r="14.5" fill="#8a84bc" fill-opacity="0.024" stroke="#fff" stroke-opacity="0.2" stroke-width="1.5"/>
<circle cx="272.1" cy="167.2" r="14.5" fill="#8a84bc" fill-opacity="0.024" stroke="#fff" stroke-opacity="0.2" stroke-width="1.5"/>
<circle cx="554.9" cy="319.0" r="14.5" fill="#c98ea2" fill-opacity="0.024" stroke="#fff" stroke-opacity="0.2" stroke-width="1.5"/>
<circle cx="606.8" cy="412.0" r="14.5" fill="#8a84bc" fill-opacity="0.024" stroke="#fff" stroke-opacity="0.2" stroke-width="1.5"/>
<circle cx="493.0" cy="296.2" r="14.5" fill="#8a84bc" fill-opacity="0.024" stroke="#fff" stroke-opacity="0.2" stroke-width="1.5"/>
<circle cx="401.6" cy="280.8" r="14.5" fill="#8a84bc" fill-opacity="0.024" stroke="#fff" stroke-opacity="0.2" stroke-width="1.5"/>
<circle cx="366.0" cy="199.3" r="14.5" fill="#8a84bc" fill-opacity="0.024" stroke="#fff" stroke-opacity="0.2" stroke-width="1.5"/>
<circle cx="299.0" cy="226.3" r="14.5" fill="#8a84bc" fill-opacity="0.024" stroke="#fff" stroke-opacity="0.2" stroke-width="1.5"/>
<circle cx="491.8" cy="394.4" r="14.5" fill="#c98ea2" fill-opacity="0.024" stroke="#fff" stroke-opacity="0.2" stroke-width="1.5"/>
<circle cx="191.7" cy="399.8" r="14.5" fill="#8a84bc" fill-opacity="0.024" stroke="#fff" stroke-opacity="0.2" stroke-width="1.5"/>
<circle cx="315.5" cy="349.0" r="14.5" fill="#8a84bc" fill-opacity="0.024" stroke="#fff" stroke-opacity="0.2" stroke-width="1.5"/>
<circle cx="553.2" cy="328.4" r="14.5" fill="#b0d2a0" fill-opacity="0.024" stroke="#fff" stroke-opacity="0.2" stroke-width="1.5"/>
<circle cx="367.5" cy="264.2" r="14.5" fill="#8a84bc" fill-opacity="0.024" stroke="#fff" stroke-opacity="0.2" stroke-width="1.5"/>
<circle cx="483.1" cy="235.9" r="14.5" fill="#c98ea2" fill-opacity="0.024" stroke="#fff" stroke-opacity="0.2" stroke-width="1.5"/>
<circle cx="717.4" cy="256.9" r="14.5" fill="#c98ea2" fill-opacity="0.024" stroke="#fff" stroke-opacity="0.2" stroke-width="1.5"/>
<circle cx="382.0" cy="523.0" r="14.5" fill="#c98ea2" fill-opacity="0.024" stroke="#fff" stroke-opacity="0.2" stroke-width="1.5"/>
<circle cx="309.4" cy="306.5" r="14.5" fill="#8a84bc" fill-opacity="0.024" stroke="#fff" stroke-opacity="0.2" stroke-width="1.5"/>
<circle cx="499.2" cy="342.8" r="14.5" fill="#c98ea2" fill-opacity="0.024" stroke="#fff" stroke-opacity="0.2" stroke-width="1.5"/>
<circle cx="290.2" cy="377.2" r="14.5" fill="#8a84bc" fill-opacity="0.024" stroke="#fff" stroke-opacity="0.2" stroke-width="1.5"/>
<circle cx="484.0" cy="472.7" r="14.5" fill="#e8b48a" fill-opacity="0.024" stroke="#fff" stroke-opacity="0.2" stroke-width="1.5"/>
<circle cx="613.5" cy="306.2" r="14.5" fill="#c98ea2" fill-opacity="0.024" stroke="#fff" stroke-opacity="0.2" stroke-width="1.5"/>
<circle cx="430.9" cy="397.6" r="14.5" fill="#e8b48a" fill-opacity="0.024" stroke="#fff" stroke-opacity="0.2" stroke-width="1.5"/>
<circle cx="364.0" cy="308.1" r="14.5" fill="#8a84bc" fill-opacity="0.024" stroke="#fff" stroke-opacity="0.2" stroke-width="1.5"/>
<circle cx="257.8" cy="331.0" r="14.5" fill="#c98ea2" fill-opacity="0.024" stroke="#fff" stroke-opacity="0.2" stroke-width="1.5"/>
<circle cx="418.5" cy="128.0" r="14.5" fill="#8a84bc" fill-opacity="0.024" stroke="#fff" stroke-opacity="0.2" stroke-width="1.5"/>
<circle cx="520.7" cy="380.2" r="14.5" fill="#8a84bc" fill-opacity="0.024" stroke="#fff" stroke-opacity="0.2" stroke-width="1.5"/>
<circle cx="392.3" cy="419.2" r="14.5" fill="#8a84bc" fill-opacity="0.024" stroke="#fff" stroke-opacity="0.2" stroke-width="1.5"/>
<circle cx="412.5" cy="371.8" r="14.5" fill="#c98ea2" fill-opacity="0.024" stroke="#fff" stroke-opacity="0.2" stroke-width="1.5"/>
<circle cx="300.4" cy="364.5" r="14.5" fill="#b0d2a0" fill-opacity="0.024" stroke="#fff" stroke-opacity="0.2" stroke-width="1.5"/>
<circle cx="334.8" cy="327.8" r="14.5" fill="#8a84bc" fill-opacity="0.024" stroke="#fff" stroke-opacity="0.2" stroke-width="1.5"/>
<circle cx="338.3" cy="435.5" r="14.5" fill="#8a84bc" fill-opacity="0.024" stroke="#fff" stroke-opacity="0.2" stroke-width="1.5"/>
<circle cx="477.7" cy="360.5" r="14.5" fill="#8a84bc" fill-opacity="0.024" stroke="#fff" stroke-opacity="0.2" stroke-width="1.5"/>
<circle cx="401.9" cy="363.5" r="14.5" fill="#c98ea2" fill-opacity="0.024" stroke="#fff" stroke-opacity="0.2" stroke-width="1.5"/>
<circle cx="563.0" cy="286.5" r="14.5" fill="#8a84bc" fill-opacity="0.024" stroke="#fff" stroke-opacity="0.2" stroke-width="1.5"/>
<circle cx="426.6" cy="447.2" r="14.5" fill="#8a84bc" fill-opacity="0.024" stroke="#fff" stroke-opacity="0.2" stroke-width="1.5"/>
<circle cx="326.1" cy="334.5" r="14.5" fill="#8a84bc" fill-opacity="0.024" stroke="#fff" stroke-opacity="0.2" stroke-width="1.5"/>
<circle cx="539.7" cy="385.0" r="14.5" fill="#e8b48a" fill-opacity="0.024" stroke="#fff" stroke-opacity="0.2" stroke-width="1.5"/>
<circle cx="418.6" cy="225.6" r="14.5" fill="#c98ea2" fill-opacity="0.024" stroke="#fff" stroke-opacity="0.2" stroke-width="1.5"/>
<circle cx="397.9" cy="304.3" r="14.5" fill="#c98ea2" fill-opacity="0.024" stroke="#fff" stroke-opacity="0.2" stroke-width="1.5"/>
<circle cx="444.2" cy="183.0" r="14.5" fill="#8a84bc" fill-opacity="0.024" stroke="#fff" stroke-opacity="0.2" stroke-width="1.5"/>
<circle cx="529.6" cy="336.1" r="14.5" fill="#8a84bc" fill-opacity="0.024" stroke="#fff" stroke-opacity="0.2" stroke-width="1.5"/>
<circle cx="581.5" cy="291.0" r="14.5" fill="#8a84bc" fill-opacity="0.024" stroke="#fff" stroke-opacity="0.2" stroke-width="1.5"/>
<circle cx="275.0" cy="391.1" r="14.5" fill="#8a84bc" fill-opacity="0.024" stroke="#fff" stroke-opacity="0.2" stroke-width="1.5"/>
<circle cx="515.3" cy="250.6" r="14.5" fill="#8a84bc" fill-opacity="0.024" stroke="#fff" stroke-opacity="0.2" stroke-width="1.5"/>
<circle cx="448.0" cy="242.7" r="14.5" fill="#c98ea2" fill-opacity="0.024" stroke="#fff" stroke-opacity="0.2" stroke-width="1.5"/>
<circle cx="394.8" cy="309.0" r="14.5" fill="#c98ea2" fill-opacity="0.024" stroke="#fff" stroke-opacity="0.2" stroke-width="1.5"/>
<circle cx="350.9" cy="439.5" r="14.5" fill="#c98ea2" fill-opacity="0.024" stroke="#fff" stroke-opacity="0.2" stroke-width="1.5"/>
<circle cx="420.1" cy="324.8" r="14.5" fill="#c98ea2" fill-opacity="0.024" stroke="#fff" stroke-opacity="0.2" stroke-width="1.5"/>
<circle cx="391.6" cy="227.2" r="14.5" fill="#e8b48a" fill-opacity="0.024" stroke="#fff" stroke-opacity="0.2" stroke-width="1.5"/>
<circle cx="403.0" cy="159.0" r="14.5" fill="#8a84bc" fill-opacity="0.024" stroke="#fff" stroke-opacity="0.2" stroke-width="1.5"/>
<circle cx="555.3" cy="519.1" r="14.5" fill="#8a84bc" fill-opacity="0.024" stroke="#fff" stroke-opacity="0.2" stroke-width="1.5"/>
<circle cx="410.4" cy="529.9" r="14.5" fill="#c98ea2" fill-opacity="0.024" stroke="#fff" stroke-opacity="0.2" stroke-width="1.5"/>
<circle cx="434.5" cy="404.3" r="14.5" fill="#c98ea2" fill-opacity="0.024" stroke="#fff" stroke-opacity="0.2" stroke-width="1.5"/>
<circle cx="493.5" cy="366.2" r="14.5" fill="#e8b48a" fill-opacity="0.024" stroke="#fff" stroke-opacity="0.2" stroke-width="1.5"/>
<circle cx="495.8" cy="476.9" r="14.5" fill="#8a84bc" fill-opacity="0.024" stroke="#fff" stroke-opacity="0.2" stroke-width="1.5"/>
<circle cx="444.6" cy="458.7" r="14.5" fill="#c98ea2" fill-opacity="0.024" stroke="#fff" stroke-opacity="0.2" stroke-width="1.5"/>
<circle cx="436.8" cy="364.1" r="14.5" fill="#8a84bc" fill-opacity="0.024" stroke="#fff" stroke-opacity="0.2" stroke-width="1.5"/>
<circle cx="683.6" cy="361.9" r="14.5" fill="#c98ea2" fill-opacity="0.024" stroke="#fff" stroke-opacity="0.2" stroke-width="1.5"/>
<circle cx="432.9" cy="269.5" r="14.5" fill="#c98ea2" fill-opacity="0.024" stroke="#fff" stroke-opacity="0.2" stroke-width="1.5"/>
<circle cx="314.6" cy="369.7" r="14.5" fill="#8a84bc" fill-opacity="0.024" stroke="#fff" stroke-opacity="0.2" stroke-width="1.5"/>
<circle cx="466.6" cy="367.1" r="14.5" fill="#c98ea2" fill-opacity="0.024" stroke="#fff" stroke-opacity="0.2" stroke-width="1.5"/>
<circle cx="458.6" cy="564.5" r="14.5" fill="#8a84bc" fill-opacity="0.024" stroke="#fff" stroke-opacity="0.2" stroke-width="1.5"/>
<circle cx="424.7" cy="294.3" r="14.5" fill="#8a84bc" fill-opacity="0.024" stroke="#fff" stroke-opacity="0.2" stroke-width="1.5"/>
<circle cx="438.0" cy="488.3" r="14.5" fill="#c98ea2" fill-opacity="0.024" stroke="#fff" stroke-opacity="0.2" stroke-width="1.5"/>
<circle cx="608.0" cy="180.0" r="14.5" fill="#8a84bc" fill-opacity="0.024" stroke="#fff" stroke-opacity="0.2" stroke-width="1.5"/>
<circle cx="290.5" cy="553.0" r="14.5" fill="#8a84bc" fill-opacity="0.024" stroke="#fff" stroke-opacity="0.2" stroke-width="1.5"/>
<circle cx="565.7" cy="500.0" r="14.5" fill="#8a84bc" fill-opacity="0.024" stroke="#fff" stroke-opacity="0.2" stroke-width="1.5"/>
<circle cx="535.7" cy="258.4" r="14.5" fill="#c98ea2" fill-opacity="0.024" stroke="#fff" stroke-opacity="0.2" stroke-width="1.5"/>
<circle cx="531.3" cy="413.0" r="14.5" fill="#c98ea2" fill-opacity="0.024" stroke="#fff" stroke-opacity="0.2" stroke-width="1.5"/>
<circle cx="277.3" cy="313.9" r="14.5" fill="#8a84bc" fill-opacity="0.024" stroke="#fff" stroke-opacity="0.2" stroke-width="1.5"/>
<circle cx="701.7" cy="387.7" r="14.5" fill="#c98ea2" fill-opacity="0.024" stroke="#fff" stroke-opacity="0.2" stroke-width="1.5"/>
<circle cx="398.8" cy="397.4" r="14.5" fill="#8a84bc" fill-opacity="0.024" stroke="#fff" stroke-opacity="0.2" stroke-width="1.5"/>
<circle cx="319.8" cy="436.5" r="14.5" fill="#c98ea2" fill-opacity="0.024" stroke="#fff" stroke-opacity="0.2" stroke-width="1.5"/>
<circle cx="389.2" cy="349.9" r="14.5" fill="#e8b48a" fill-opacity="0.024" stroke="#fff" stroke-opacity="0.2" stroke-width="1.5"/>
<circle cx="403.8" cy="279.9" r="14.5" fill="#8a84bc" fill-opacity="0.024" stroke="#fff" stroke-opacity="0.2" stroke-width="1.5"/>
<circle cx="510.7" cy="401.4" r="14.5" fill="#e8b48a" fill-opacity="0.024" stroke="#fff" stroke-opacity="0.2" stroke-width="1.5"/>
<circle cx="401.5" cy="388.8" r="14.5" fill="#8a84bc" fill-opacity="0.024" stroke="#fff" stroke-opacity="0.2" stroke-width="1.5"/>
<circle cx="507.6" cy="322.9" r="14.5" fill="#c98ea2" fill-opacity="0.024" stroke="#fff" stroke-opacity="0.2" stroke-width="1.5"/>
<circle cx="471.6" cy="310.1" r="14.5" fill="#8a84bc" fill-opacity="0.024" stroke="#fff" stroke-opacity="0.2" stroke-width="1.5"/>
<circle cx="335.0" cy="404.7" r="14.5" fill="#c98ea2" fill-opacity="0.024" stroke="#fff" stroke-opacity="0.2" stroke-width="1.5"/>
<circle cx="535.8" cy="302.2" r="14.5" fill="#b0d2a0" fill-opacity="0.024" stroke="#fff" stroke-opacity="0.2" stroke-width="1.5"/>
<circle cx="458.2" cy="209.5" r="14.5" fill="#8a84bc" fill-opacity="0.024" stroke="#fff" stroke-opacity="0.2" stroke-width="1.5"/>
<circle cx="481.6" cy="468.9" r="14.5" fill="#c98ea2" fill-opacity="0.024" stroke="#fff" stroke-opacity="0.2" stroke-width="1.5"/>
<circle cx="357.9" cy="350.5" r="14.5" fill="#8a84bc" fill-opacity="0.024" stroke="#fff" stroke-opacity="0.2" stroke-width="1.5"/>
<circle cx="620.7" cy="433.7" r="14.5" fill="#c98ea2" fill-opacity="0.024" stroke="#fff" stroke-opacity="0.2" stroke-width="1.5"/>
<circle cx="665.1" cy="418.9" r="14.5" fill="#8a84bc" fill-opacity="0.024" stroke="#fff" stroke-opacity="0.2" stroke-width="1.5"/>
<circle cx="148.2" cy="276.2" r="14.5" fill="#8a84bc" fill-opacity="0.024" stroke="#fff" stroke-opacity="0.2" stroke-width="1.5"/>
<circle cx="666.8" cy="394.7" r="14.5" fill="#e8b48a" fill-opacity="0.024" stroke="#fff" stroke-opacity="0.2" stroke-width="1.5"/>
<circle cx="301.6" cy="376.3" r="14.5" fill="#8a84bc" fill-opacity="0.024" stroke="#fff" stroke-opacity="0.2" stroke-width="1.5"/>
<circle cx="592.5" cy="343.2" r="14.5" fill="#8a84bc" fill-opacity="0.024" stroke="#fff" stroke-opacity="0.2" stroke-width="1.5"/>
<circle cx="236.0" cy="256.9" r="14.5" fill="#8a84bc" fill-opacity="0.024" stroke="#fff" stroke-opacity="0.2" stroke-width="1.5"/>
<circle cx="399.7" cy="201.7" r="14.5" fill="#8a84bc" fill-opacity="0.024" stroke="#fff" stroke-opacity="0.2" stroke-width="1.5"/>
<circle cx="391.1" cy="342.4" r="14.5" fill="#8a84bc" fill-opacity="0.024" stroke="#fff" stroke-opacity="0.2" stroke-width="1.5"/>
<circle cx="300.8" cy="235.6" r="14.5" fill="#8a84bc" fill-opacity="0.024" stroke="#fff" stroke-opacity="0.2" stroke-width="1.5"/>
<circle cx="459.7" cy="145.3" r="14.5" fill="#8a84bc" fill-opacity="0.024" stroke="#fff" stroke-opacity="0.2" stroke-width="1.5"/>
<circle cx="503.2" cy="397.1" r="14.5" fill="#c98ea2" fill-opacity="0.024" stroke="#fff" stroke-opacity="0.2" stroke-width="1.5"/>
<circle cx="331.4" cy="403.3" r="14.5" fill="#8a84bc" fill-opacity="0.024" stroke="#fff" stroke-opacity="0.2" stroke-width="1.5"/>
<circle cx="537.7" cy="322.8" r="14.5" fill="#8a84bc" fill-opacity="0.024" stroke="#fff" stroke-opacity="0.2" stroke-width="1.5"/>
<circle cx="291.0" cy="337.4" r="14.5" fill="#8a84bc" fill-opacity="0.024" stroke="#fff" stroke-opacity="0.2" stroke-width="1.5"/>
<circle cx="206.5" cy="412.0" r="14.5" fill="#8a84bc" fill-opacity="0.024" stroke="#fff" stroke-opacity="0.2" stroke-width="1.5"/>
<circle cx="317.4" cy="490.3" r="14.5" fill="#8a84bc" fill-opacity="0.024" stroke="#fff" stroke-opacity="0.2" stroke-width="1.5"/>
<circle cx="500.9" cy="332.0" r="14.5" fill="#8a84bc" fill-opacity="0.024" stroke="#fff" stroke-opacity="0.2" stroke-width="1.5"/>
<circle cx="414.1" cy="213.8" r="14.5" fill="#c98ea2" fill-opacity="0.024" stroke="#fff" stroke-opacity="0.2" stroke-width="1.5"/>
<circle cx="396.9" cy="106.6" r="14.5" fill="#8a84bc" fill-opacity="0.024" stroke="#fff" stroke-opacity="0.2" stroke-width="1.5"/>
<circle cx="552.9" cy="567.5" r="14.5" fill="#e8b48a" fill-opacity="0.024" stroke="#fff" stroke-opacity="0.2" stroke-width="1.5"/>
<circle cx="666.5" cy="442.3" r="14.5" fill="#c98ea2" fill-opacity="0.024" stroke="#fff" stroke-opacity="0.2" stroke-width="1.5"/>
<circle cx="373.5" cy="577.4" r="14.5" fill="#8a84bc" fill-opacity="0.024" stroke="#fff" stroke-opacity="0.2" stroke-width="1.5"/>
<circle cx="497.8" cy="417.7" r="14.5" fill="#e8b48a" fill-opacity="0.024" stroke="#fff" stroke-opacity="0.2" stroke-width="1.5"/>
<circle cx="475.8" cy="393.5" r="14.5" fill="#8a84bc" fill-opacity="0.024" stroke="#fff" stroke-opacity="0.2" stroke-width="1.5"/>
<circle cx="495.8" cy="409.5" r="14.5" fill="#8a84bc" fill-opacity="0.024" stroke="#fff" stroke-opacity="0.2" stroke-width="1.5"/>
<circle cx="279.0" cy="254.2" r="14.5" fill="#8a84bc" fill-opacity="0.024" stroke="#fff" stroke-opacity="0.2" stroke-width="1.5"/>
<circle cx="273.2" cy="187.2" r="14.5" fill="#8a84bc" fill-opacity="0.024" stroke="#fff" stroke-opacity="0.2" stroke-width="1.5"/>
<circle cx="397.9" cy="364.7" r="14.5" fill="#e8b48a" fill-opacity="0.024" stroke="#fff" stroke-opacity="0.2" stroke-width="1.5"/>
<circle cx="479.8" cy="259.0" r="14.5" fill="#8a84bc" fill-opacity="0.024" stroke="#fff" stroke-opacity="0.2" stroke-width="1.5"/>
<circle cx="515.3" cy="395.5" r="14.5" fill="#8a84bc" fill-opacity="0.024" stroke="#fff" stroke-opacity="0.2" stroke-width="1.5"/>
<circle cx="534.4" cy="514.5" r="14.5" fill="#c98ea2" fill-opacity="0.024" stroke="#fff" stroke-opacity="0.2" stroke-width="1.5"/>
<circle cx="586.6" cy="249.6" r="14.5" fill="#8a84bc" fill-opacity="0.024" stroke="#fff" stroke-opacity="0.2" stroke-width="1.5"/>
<circle cx="707.6" cy="417.4" r="14.5" fill="#e8b48a" fill-opacity="0.024" stroke="#fff" stroke-opacity="0.2" stroke-width="1.5"/>
<circle cx="358.4" cy="307.5" r="14.5" fill="#8a84bc" fill-opacity="0.024" stroke="#fff" stroke-opacity="0.2" stroke-width="1.5"/>
<circle cx="328.1" cy="362.2" r="14.5" fill="#8a84bc" fill-opacity="0.024" stroke="#fff" stroke-opacity="0.2" stroke-width="1.5"/>
<circle cx="534.9" cy="290.2" r="14.5" fill="#c98ea2" fill-opacity="0.024" stroke="#fff" stroke-opacity="0.2" stroke-width="1.5"/>
<circle cx="513.0" cy="385.2" r="14.5" fill="#c98ea2" fill-opacity="0.024" stroke="#fff" stroke-opacity="0.2" stroke-width="1.5"/>
<circle cx="345.5" cy="99.1" r="14.5" fill="#8a84bc" fill-opacity="0.024" stroke="#fff" stroke-opacity="0.2" stroke-width="1.5"/>
<circle cx="289.7" cy="268.6" r="14.5" fill="#8a84bc" fill-opacity="0.024" stroke="#fff" stroke-opacity="0.2" stroke-width="1.5"/>
<circle cx="323.7" cy="454.1" r="14.5" fill="#c98ea2" fill-opacity="0.024" stroke="#fff" stroke-opacity="0.2" stroke-width="1.5"/>
<circle cx="375.1" cy="277.3" r="14.5" fill="#8a84bc" fill-opacity="0.024" stroke="#fff" stroke-opacity="0.2" stroke-width="1.5"/>
<circle cx="297.5" cy="447.0" r="14.5" fill="#c98ea2" fill-opacity="0.024" stroke="#fff" stroke-opacity="0.2" stroke-width="1.5"/>
<circle cx="335.1" cy="405.7" r="14.5" fill="#c98ea2" fill-opacity="0.024" stroke="#fff" stroke-opacity="0.2" stroke-width="1.5"/>
<circle cx="570.9" cy="438.7" r="14.5" fill="#c98ea2" fill-opacity="0.024" stroke="#fff" stroke-opacity="0.2" stroke-width="1.5"/>
<circle cx="341.3" cy="318.4" r="14.5" fill="#8a84bc" fill-opacity="0.024" stroke="#fff" stroke-opacity="0.2" stroke-width="1.5"/>
<circle cx="703.4" cy="468.8" r="14.5" fill="#e8b48a" fill-opacity="0.024" stroke="#fff" stroke-opacity="0.2" stroke-width="1.5"/>
<circle cx="451.1" cy="400.3" r="14.5" fill="#b0d2a0" fill-opacity="0.024" stroke="#fff" stroke-opacity="0.2" stroke-width="1.5"/>
<circle cx="496.5" cy="398.4" r="14.5" fill="#c98ea2" fill-opacity="0.024" stroke="#fff" stroke-opacity="0.2" stroke-width="1.5"/>
<circle cx="593.4" cy="388.8" r="14.5" fill="#c98ea2" fill-opacity="0.024" stroke="#fff" stroke-opacity="0.2" stroke-width="1.5"/>
<circle cx="416.5" cy="384.0" r="14.5" fill="#8a84bc" fill-opacity="0.024" stroke="#fff" stroke-opacity="0.2" stroke-width="1.5"/>
<circle cx="311.5" cy="198.8" r="14.5" fill="#c98ea2" fill-opacity="0.024" stroke="#fff" stroke-opacity="0.2" stroke-width="1.5"/>
<circle cx="463.8" cy="293.6" r="14.5" fill="#8a84bc" fill-opacity="0.024" stroke="#fff" stroke-opacity="0.2" stroke-width="1.5"/>
<circle cx="496.0" cy="297.9" r="14.5" fill="#8a84bc" fill-opacity="0.024" stroke="#fff" stroke-opacity="0.2" stroke-width="1.5"/>
<circle cx="463.5" cy="299.0" r="14.5" fill="#8a84bc" fill-opacity="0.024" stroke="#fff" stroke-opacity="0.2" stroke-width="1.5"/>
<circle cx="275.0" cy="389.5" r="14.5" fill="#c98ea2" fill-opacity="0.024" stroke="#fff" stroke-opacity="0.2" stroke-width="1.5"/>
<circle cx="351.2" cy="252.3" r="14.5" fill="#8a84bc" fill-opacity="0.024" stroke="#fff" stroke-opacity="0.2" stroke-width="1.5"/>
<circle cx="632.8" cy="251.8" r="14.5" fill="#8a84bc" fill-opacity="0.024" stroke="#fff" stroke-opacity="0.2" stroke-width="1.5"/>
<circle cx="319.8" cy="106.1" r="14.5" fill="#8a84bc" fill-opacity="0.024" stroke="#fff" stroke-opacity="0.2" stroke-width="1.5"/>
<circle cx="409.6" cy="421.0" r="14.5" fill="#c98ea2" fill-opacity="0.024" stroke="#fff" stroke-opacity="0.2" stroke-width="1.5"/>
<circle cx="525.9" cy="393.2" r="14.5" fill="#8a84bc" fill-opacity="0.024" stroke="#fff" stroke-opacity="0.2" stroke-width="1.5"/>
<circle cx="277.8" cy="298.4" r="14.5" fill="#8a84bc" fill-opacity="0.024" stroke="#fff" stroke-opacity="0.2" stroke-width="1.5"/>
<circle cx="511.5" cy="320.7" r="14.5" fill="#8a84bc" fill-opacity="0.024" stroke="#fff" stroke-opacity="0.2" stroke-width="1.5"/>
<circle cx="474.5" cy="453.2" r="14.5" fill="#c98ea2" fill-opacity="0.024" stroke="#fff" stroke-opacity="0.2" stroke-width="1.5"/>
<circle cx="504.5" cy="455.2" r="14.5" fill="#c98ea2" fill-opacity="0.024" stroke="#fff" stroke-opacity="0.2" stroke-width="1.5"/>
<circle cx="469.0" cy="74.5" r="14.5" fill="#8a84bc" fill-opacity="0.024" stroke="#fff" stroke-opacity="0.2" stroke-width="1.5"/>
<circle cx="388.9" cy="471.0" r="14.5" fill="#8a84bc" fill-opacity="0.024" stroke="#fff" stroke-opacity="0.2" stroke-width="1.5"/>
<circle cx="384.9" cy="195.7" r="14.5" fill="#8a84bc" fill-opacity="0.024" stroke="#fff" stroke-opacity="0.2" stroke-width="1.5"/>
<circle cx="539.4" cy="359.9" r="14.5" fill="#c98ea2" fill-opacity="0.024" stroke="#fff" stroke-opacity="0.2" stroke-width="1.5"/>
<circle cx="291.0" cy="347.0" r="14.5" fill="#c98ea2" fill-opacity="0.024" stroke="#fff" stroke-opacity="0.2" stroke-width="1.5"/>
<circle cx="419.1" cy="370.4" r="14.5" fill="#8a84bc" fill-opacity="0.024" stroke="#fff" stroke-opacity="0.2" stroke-width="1.5"/>
<circle cx="375.3" cy="177.7" r="14.5" fill="#8a84bc" fill-opacity="0.024" stroke="#fff" stroke-opacity="0.2" stroke-width="1.5"/>
<circle cx="479.7" cy="331.9" r="14.5" fill="#8a84bc" fill-opacity="0.024" stroke="#fff" stroke-opacity="0.2" stroke-width="1.5"/>
<circle cx="462.3" cy="479.8" r="14.5" fill="#c98ea2" fill-opacity="0.024" stroke="#fff" stroke-opacity="0.2" stroke-width="1.5"/>
<circle cx="255.9" cy="462.8" r="14.5" fill="#8a84bc" fill-opacity="0.024" stroke="#fff" stroke-opacity="0.2" stroke-width="1.5"/>
<circle cx="247.4" cy="345.2" r="14.5" fill="#8a84bc" fill-opacity="0.024" stroke="#fff" stroke-opacity="0.2" stroke-width="1.5"/>
<circle cx="316.0" cy="402.4" r="14.5" fill="#8a84bc" fill-opacity="0.024" stroke="#fff" stroke-opacity="0.2" stroke-width="1.5"/>
<circle cx="493.2" cy="342.2" r="14.5" fill="#8a84bc" fill-opacity="0.024" stroke="#fff" stroke-opacity="0.2" stroke-width="1.5"/>
<circle cx="464.8" cy="367.5" r="14.5" fill="#8a84bc" fill-opacity="0.024" stroke="#fff" stroke-opacity="0.2" stroke-width="1.5"/>
<circle cx="465.4" cy="266.6" r="14.5" fill="#8a84bc" fill-opacity="0.024" stroke="#fff" stroke-opacity="0.2" stroke-width="1.5"/>
<circle cx="543.4" cy="227.3" r="14.5" fill="#8a84bc" fill-opacity="0.024" stroke="#fff" stroke-opacity="0.2" stroke-width="1.5"/>
<circle cx="469.6" cy="435.7" r="14.5" fill="#8a84bc" fill-opacity="0.024" stroke="#fff" stroke-opacity="0.2" stroke-width="1.5"/>
<circle cx="517.5" cy="224.9" r="14.5" fill="#c98ea2" fill-opacity="0.024" stroke="#fff" stroke-opacity="0.2" stroke-width="1.5"/>
<circle cx="330.6" cy="422.7" r="14.5" fill="#8a84bc" fill-opacity="0.024" stroke="#fff" stroke-opacity="0.2" stroke-width="1.5"/>
<circle cx="472.8" cy="384.6" r="14.5" fill="#8a84bc" fill-opacity="0.024" stroke="#fff" stroke-opacity="0.2" stroke-width="1.5"/>
<circle cx="449.9" cy="353.0" r="14.5" fill="#8a84bc" fill-opacity="0.024" stroke="#fff" stroke-opacity="0.2" stroke-width="1.5"/>
<circle cx="309.1" cy="305.5" r="14.5" fill="#c98ea2" fill-opacity="0.024" stroke="#fff" stroke-opacity="0.2" stroke-width="1.5"/>
<circle cx="260.0" cy="412.6" r="14.5" fill="#8a84bc" fill-opacity="0.024" stroke="#fff" stroke-opacity="0.2" stroke-width="1.5"/>
<circle cx="404.7" cy="369.9" r="14.5" fill="#e8b48a" fill-opacity="0.024" stroke="#fff" stroke-opacity="0.2" stroke-width="1.5"/>
<circle cx="309.5" cy="441.7" r="14.5" fill="#c98ea2" fill-opacity="0.024" stroke="#fff" stroke-opacity="0.2" stroke-width="1.5"/>
<circle cx="578.0" cy="440.2" r="14.5" fill="#c98ea2" fill-opacity="0.024" stroke="#fff" stroke-opacity="0.2" stroke-width="1.5"/>
<circle cx="339.4" cy="474.4" r="14.5" fill="#8a84bc" fill-opacity="0.024" stroke="#fff" stroke-opacity="0.2" stroke-width="1.5"/>
<circle cx="438.9" cy="177.2" r="14.5" fill="#c98ea2" fill-opacity="0.024" stroke="#fff" stroke-opacity="0.2" stroke-width="1.5"/>
<circle cx="500.4" cy="552.1" r="14.5" fill="#c98ea2" fill-opacity="0.024" stroke="#fff" stroke-opacity="0.2" stroke-width="1.5"/>
<circle cx="547.0" cy="261.7" r="14.5" fill="#8a84bc" fill-opacity="0.024" stroke="#fff" stroke-opacity="0.2" stroke-width="1.5"/>
<circle cx="582.1" cy="322.1" r="14.5" fill="#c98ea2" fill-opacity="0.024" stroke="#fff" stroke-opacity="0.2" stroke-width="1.5"/>
<circle cx="303.2" cy="339.5" r="14.5" fill="#c98ea2" fill-opacity="0.024" stroke="#fff" stroke-opacity="0.2" stroke-width="1.5"/>
<circle cx="521.9" cy="513.4" r="14.5" fill="#e8b48a" fill-opacity="0.024" stroke="#fff" stroke-opacity="0.2" stroke-width="1.5"/>
<circle cx="444.7" cy="232.7" r="14.5" fill="#8a84bc" fill-opacity="0.024" stroke="#fff" stroke-opacity="0.2" stroke-width="1.5"/>
<circle cx="204.0" cy="444.6" r="14.5" fill="#8a84bc" fill-opacity="0.024" stroke="#fff" stroke-opacity="0.2" stroke-width="1.5"/>
<circle cx="555.3" cy="397.9" r="14.5" fill="#b0d2a0" fill-opacity="0.024" stroke="#fff" stroke-opacity="0.2" stroke-width="1.5"/>
<circle cx="385.9" cy="402.1" r="14.5" fill="#b0d2a0" fill-opacity="0.024" stroke="#fff" stroke-opacity="0.2" stroke-width="1.5"/>
<circle cx="409.0" cy="389.7" r="14.5" fill="#e8b48a" fill-opacity="0.024" stroke="#fff" stroke-opacity="0.2" stroke-width="1.5"/>
<circle cx="469.0" cy="294.2" r="14.5" fill="#8a84bc" fill-opacity="0.024" stroke="#fff" stroke-opacity="0.2" stroke-width="1.5"/>
<circle cx="359.9" cy="174.2" r="14.5" fill="#c98ea2" fill-opacity="0.024" stroke="#fff" stroke-opacity="0.2" stroke-width="1.5"/>
<circle cx="324.0" cy="327.1" r="14.5" fill="#8a84bc" fill-opacity="0.024" stroke="#fff" stroke-opacity="0.2" stroke-width="1.5"/>
<circle cx="508.8" cy="347.5" r="14.5" fill="#e8b48a" fill-opacity="0.024" stroke="#fff" stroke-opacity="0.2" stroke-width="1.5"/>
<circle cx="459.4" cy="356.4" r="14.5" fill="#8a84bc" fill-opacity="0.024" stroke="#fff" stroke-opacity="0.2" stroke-width="1.5"/>
</g>
<rect x="89.6" y="77" width="6.8" height="551.3" fill="#1f201f"/>
<rect x="120" y="652.6" width="606.7" height="6.9" fill="#1f201f"/>
<text x="76" y="114" font-size="33.5" fill="#1f201f" text-anchor="middle" transform="rotate(-90 76 114)">10</text>
<text x="76" y="355" font-size="33.5" fill="#1f201f" text-anchor="middle" transform="rotate(-90 76 355)">0</text>
<text x="76" y="595.5" font-size="33.5" fill="#1f201f" text-anchor="middle" transform="rotate(-90 76 595.5)">-10</text>
<text x="153.4" y="700.5" font-size="33.5" fill="#1f201f" text-anchor="middle">-10</text>
<text x="433.8" y="700.5" font-size="33.5" fill="#1f201f" text-anchor="middle">0</text>
<text x="715" y="700.5" font-size="33.5" fill="#1f201f" text-anchor="middle">10</text>
<text x="423.6" y="748.6" font-size="35.1" font-weight="bold" fill="#1f201f" text-anchor="middle">PC1 (5.8%) explained</text>
<text x="32" y="352.3" font-size="38.5" font-weight="bold" fill="#1f201f" text-anchor="middle" transform="rotate(-90 32 352.3)">PC2 (5.6%) explained</text>
<text x="5" y="26.3" font-size="34" fill="#000">A</text>
<circle cx="303" cy="291.5" r="13.6" fill="#b6d9a1" fill-opacity="0.8" stroke="#1c2022" stroke-width="5.3"/>
<circle cx="309.5" cy="296" r="13.6" fill="#5a51a6" fill-opacity="0.8" stroke="#1c2022" stroke-width="5.3"/>
<circle cx="314.2" cy="297.5" r="13.6" fill="#5a51a6" fill-opacity="0.8" stroke="#1c2022" stroke-width="5.3"/>
<circle cx="297.8" cy="307.5" r="13.6" fill="#5a51a6" fill-opacity="0.8" stroke="#1c2022" stroke-width="5.3"/>
<circle cx="408.5" cy="349" r="13.6" fill="#f8ba6f" fill-opacity="0.8" stroke="#1c2022" stroke-width="5.3"/>
<circle cx="397.3" cy="329.8" r="13.6" fill="#5a51a6" fill-opacity="0.8" stroke="#1c2022" stroke-width="5.3"/>
<circle cx="386.6" cy="320.3" r="13.6" fill="#5a51a6" fill-opacity="0.8" stroke="#1c2022" stroke-width="5.3"/>
<circle cx="359" cy="320.2" r="13.6" fill="#5a51a6" fill-opacity="0.8" stroke="#1c2022" stroke-width="5.3"/>
<circle cx="391.7" cy="345.9" r="13.6" fill="#5a51a6" fill-opacity="0.8" stroke="#1c2022" stroke-width="5.3"/>
<circle cx="375.5" cy="364.3" r="13.6" fill="#b6d9a1" fill-opacity="0.8" stroke="#1c2022" stroke-width="5.3"/>
<circle cx="452" cy="384" r="13.6" fill="#5a51a6" fill-opacity="0.8" stroke="#1c2022" stroke-width="5.3"/>
<circle cx="502.4" cy="379" r="13.6" fill="#f8ba6f" fill-opacity="0.8" stroke="#1c2022" stroke-width="5.3"/>
<circle cx="493.5" cy="364" r="13.6" fill="#9f2945" fill-opacity="0.8" stroke="#1c2022" stroke-width="5.3"/>
<circle cx="492" cy="381" r="13.6" fill="#5a51a6" fill-opacity="0.8" stroke="#1c2022" stroke-width="5.3"/>
<circle cx="506" cy="342.9" r="13.6" fill="#5a51a6" fill-opacity="0.8" stroke="#1c2022" stroke-width="5.3"/>
<circle cx="458" cy="357.8" r="13.6" fill="#9f2945" fill-opacity="0.8" stroke="#1c2022" stroke-width="5.3"/>
<circle cx="474.5" cy="309.4" r="13.6" fill="#b6d9a1" fill-opacity="0.8" stroke="#1c2022" stroke-width="5.3"/>
<circle cx="485.2" cy="332.5" r="13.6" fill="#9f2945" fill-opacity="0.8" stroke="#1c2022" stroke-width="5.3"/>
<circle cx="458.4" cy="334.5" r="13.6" fill="#9f2945" fill-opacity="0.8" stroke="#1c2022" stroke-width="5.3"/>
<circle cx="437" cy="374.2" r="13.6" fill="#b6d9a1" fill-opacity="0.8" stroke="#1c2022" stroke-width="5.3"/>
<circle cx="456.5" cy="361.4" r="13.6" fill="#932d5c" fill-opacity="0.8" stroke="#1c2022" stroke-width="5.3"/>
<circle cx="478" cy="377.7" r="13.6" fill="#b6d9a1" fill-opacity="0.8" stroke="#1c2022" stroke-width="5.3"/>
<circle cx="483.2" cy="412" r="13.6" fill="#f8ba6f" fill-opacity="0.8" stroke="#1c2022" stroke-width="5.3"/>
<circle cx="460.5" cy="406.5" r="13.6" fill="#f8ba6f" fill-opacity="0.8" stroke="#1c2022" stroke-width="5.3"/>
<circle cx="440" cy="393" r="13.6" fill="#f8ba6f" fill-opacity="0.8" stroke="#1c2022" stroke-width="5.3"/>
<circle cx="504.8" cy="400.5" r="13.6" fill="#f8ba6f" fill-opacity="0.8" stroke="#1c2022" stroke-width="5.3"/>
<circle cx="821.5" cy="249.3" r="13.8" fill="#5a51a6" fill-opacity="0.8" stroke="#1c2022" stroke-width="4.6"/>
<text x="864.3" y="257.9" font-size="34" fill="#1a1a1a">GTA</text>
<circle cx="821.5" cy="318.2" r="13.8" fill="#b6d9a1" fill-opacity="0.8" stroke="#1c2022" stroke-width="4.6"/>
<text x="864.3" y="326.8" font-size="34" fill="#1a1a1a">YIL</text>
<circle cx="821.5" cy="387.1" r="13.8" fill="#f8ba6f" fill-opacity="0.8" stroke="#1c2022" stroke-width="4.6"/>
<text x="864.3" y="395.7" font-size="34" fill="#1a1a1a">JHI</text>
<circle cx="821.5" cy="456.0" r="13.8" fill="#9f2945" fill-opacity="0.8" stroke="#1c2022" stroke-width="4.6"/>
<text x="864.3" y="464.6" font-size="34" fill="#1a1a1a">CEN</text>
<text x="999.8" y="26" font-size="34" fill="#000">B</text>
<rect x="1139.6" y="16.5" width="807.6" height="233.0" fill="none" stroke="#000" stroke-width="3.1"/>
<line x1="1124.5" y1="53.4" x2="1139.6" y2="53.4" stroke="#000" stroke-width="2.9" stroke-linecap="round"/>
<line x1="1124.5" y1="96.3" x2="1139.6" y2="96.3" stroke="#000" stroke-width="2.9" stroke-linecap="round"/>
<line x1="1124.5" y1="139.1" x2="1139.6" y2="139.1" stroke="#000" stroke-width="2.9" stroke-linecap="round"/>
<line x1="1124.5" y1="182" x2="1139.6" y2="182" stroke="#000" stroke-width="2.9" stroke-linecap="round"/>
<line x1="1124.5" y1="225" x2="1139.6" y2="225" stroke="#000" stroke-width="2.9" stroke-linecap="round"/>
<line x1="1169" y1="249.5" x2="1169" y2="264.1" stroke="#000" stroke-width="2.9" stroke-linecap="round"/>
<line x1="1356.1" y1="249.5" x2="1356.1" y2="264.1" stroke="#000" stroke-width="2.9" stroke-linecap="round"/>
<line x1="1543.2" y1="249.5" x2="1543.2" y2="264.1" stroke="#000" stroke-width="2.9" stroke-linecap="round"/>
<line x1="1730.3" y1="249.5" x2="1730.3" y2="264.1" stroke="#000" stroke-width="2.9" stroke-linecap="round"/>
<line x1="1917.3" y1="249.5" x2="1917.3" y2="264.1" stroke="#000" stroke-width="2.9" stroke-linecap="round"/>
<text x="1105.8" y="96.3" font-size="23.2" fill="#000" text-anchor="middle" transform="rotate(-90 1105.8 96.3)">109000</text>
<text x="1105.8" y="225" font-size="23.2" fill="#000" text-anchor="middle" transform="rotate(-90 1105.8 225)">106000</text>
<text x="1169" y="299.5" font-size="23.5" fill="#000" text-anchor="middle">1</text>
<text x="1356.1" y="299.5" font-size="23.5" fill="#000" text-anchor="middle">2</text>
<text x="1543.2" y="299.5" font-size="23.5" fill="#000" text-anchor="middle">3</text>
<text x="1730.3" y="299.5" font-size="23.5" fill="#000" text-anchor="middle">4</text>
<text x="1917.3" y="299.5" font-size="23.5" fill="#000" text-anchor="middle">5</text>
<text x="1050" y="133.0" font-size="23.3" fill="#000" text-anchor="middle" transform="rotate(-90 1050 133.0)">AIC</text>
<text x="1543.3" y="360.0" font-size="36.8" fill="#000" text-anchor="middle">Number of clusters (k)</text>
<line x1="1181.3" y1="236.1" x2="1343.8" y2="173.9" stroke="#000" stroke-width="2.9" stroke-linecap="round"/>
<line x1="1369.0" y1="166.2" x2="1530.3" y2="128.8" stroke="#000" stroke-width="2.9" stroke-linecap="round"/>
<line x1="1556.1" y1="122.9" x2="1717.4" y2="86.8" stroke="#000" stroke-width="2.9" stroke-linecap="round"/>
<line x1="1742.9" y1="80.0" x2="1904.7" y2="29.2" stroke="#000" stroke-width="2.9" stroke-linecap="round"/>
<circle cx="1169" cy="240.8" r="5.5" fill="none" stroke="#000" stroke-width="3.5"/>
<circle cx="1356.1" cy="169.2" r="5.5" fill="none" stroke="#000" stroke-width="3.5"/>
<circle cx="1543.2" cy="125.8" r="5.5" fill="none" stroke="#000" stroke-width="3.5"/>
<circle cx="1730.3" cy="83.9" r="5.5" fill="none" stroke="#000" stroke-width="3.5"/>
<circle cx="1917.3" cy="25.3" r="5.5" fill="none" stroke="#000" stroke-width="3.5"/>
<rect x="1139.6" y="396.4" width="807.6" height="232.6" fill="none" stroke="#000" stroke-width="3.1"/>
<line x1="1124.5" y1="432.1" x2="1139.6" y2="432.1" stroke="#000" stroke-width="2.9" stroke-linecap="round"/>
<line x1="1124.5" y1="480.6" x2="1139.6" y2="480.6" stroke="#000" stroke-width="2.9" stroke-linecap="round"/>
<line x1="1124.5" y1="529.2" x2="1139.6" y2="529.2" stroke="#000" stroke-width="2.9" stroke-linecap="round"/>
<line x1="1124.5" y1="577.8" x2="1139.6" y2="577.8" stroke="#000" stroke-width="2.9" stroke-linecap="round"/>
<line x1="1124.5" y1="626.6" x2="1139.6" y2="626.6" stroke="#000" stroke-width="2.9" stroke-linecap="round"/>
<line x1="1169" y1="629.0" x2="1169" y2="643.6" stroke="#000" stroke-width="2.9" stroke-linecap="round"/>
<line x1="1356.1" y1="629.0" x2="1356.1" y2="643.6" stroke="#000" stroke-width="2.9" stroke-linecap="round"/>
<line x1="1543.2" y1="629.0" x2="1543.2" y2="643.6" stroke="#000" stroke-width="2.9" stroke-linecap="round"/>
<line x1="1730.3" y1="629.0" x2="1730.3" y2="643.6" stroke="#000" stroke-width="2.9" stroke-linecap="round"/>
<line x1="1917.3" y1="629.0" x2="1917.3" y2="643.6" stroke="#000" stroke-width="2.9" stroke-linecap="round"/>
<text x="1105.8" y="480.6" font-size="23.2" fill="#000" text-anchor="middle" transform="rotate(-90 1105.8 480.6)">120000</text>
<text x="1105.8" y="626.6" font-size="23.2" fill="#000" text-anchor="middle" transform="rotate(-90 1105.8 626.6)">105000</text>
<text x="1169" y="679.8" font-size="23.5" fill="#000" text-anchor="middle">1</text>
<text x="1356.1" y="679.8" font-size="23.5" fill="#000" text-anchor="middle">2</text>
<text x="1543.2" y="679.8" font-size="23.5" fill="#000" text-anchor="middle">3</text>
<text x="1730.3" y="679.8" font-size="23.5" fill="#000" text-anchor="middle">4</text>
<text x="1917.3" y="679.8" font-size="23.5" fill="#000" text-anchor="middle">5</text>
<text x="1050" y="512.7" font-size="23.3" fill="#000" text-anchor="middle" transform="rotate(-90 1050 512.7)">BIC</text>
<text x="1543.3" y="741.4" font-size="36.8" fill="#000" text-anchor="middle">Number of clusters (k)</text>
<line x1="1181.1" y1="614.7" x2="1344.0" y2="542.7" stroke="#000" stroke-width="2.9" stroke-linecap="round"/>
<line x1="1369.0" y1="534.5" x2="1530.3" y2="497.5" stroke="#000" stroke-width="2.9" stroke-linecap="round"/>
<line x1="1556.1" y1="491.6" x2="1717.4" y2="454.2" stroke="#000" stroke-width="2.9" stroke-linecap="round"/>
<line x1="1743.1" y1="448.0" x2="1904.5" y2="407.8" stroke="#000" stroke-width="2.9" stroke-linecap="round"/>
<circle cx="1169" cy="620" r="5.5" fill="none" stroke="#000" stroke-width="3.5"/>
<circle cx="1356.1" cy="537.4" r="5.5" fill="none" stroke="#000" stroke-width="3.5"/>
<circle cx="1543.2" cy="494.6" r="5.5" fill="none" stroke="#000" stroke-width="3.5"/>
<circle cx="1730.3" cy="451.2" r="5.5" fill="none" stroke="#000" stroke-width="3.5"/>
<circle cx="1917.3" cy="404.6" r="5.5" fill="none" stroke="#000" stroke-width="3.5"/>
</svg></body></html>
